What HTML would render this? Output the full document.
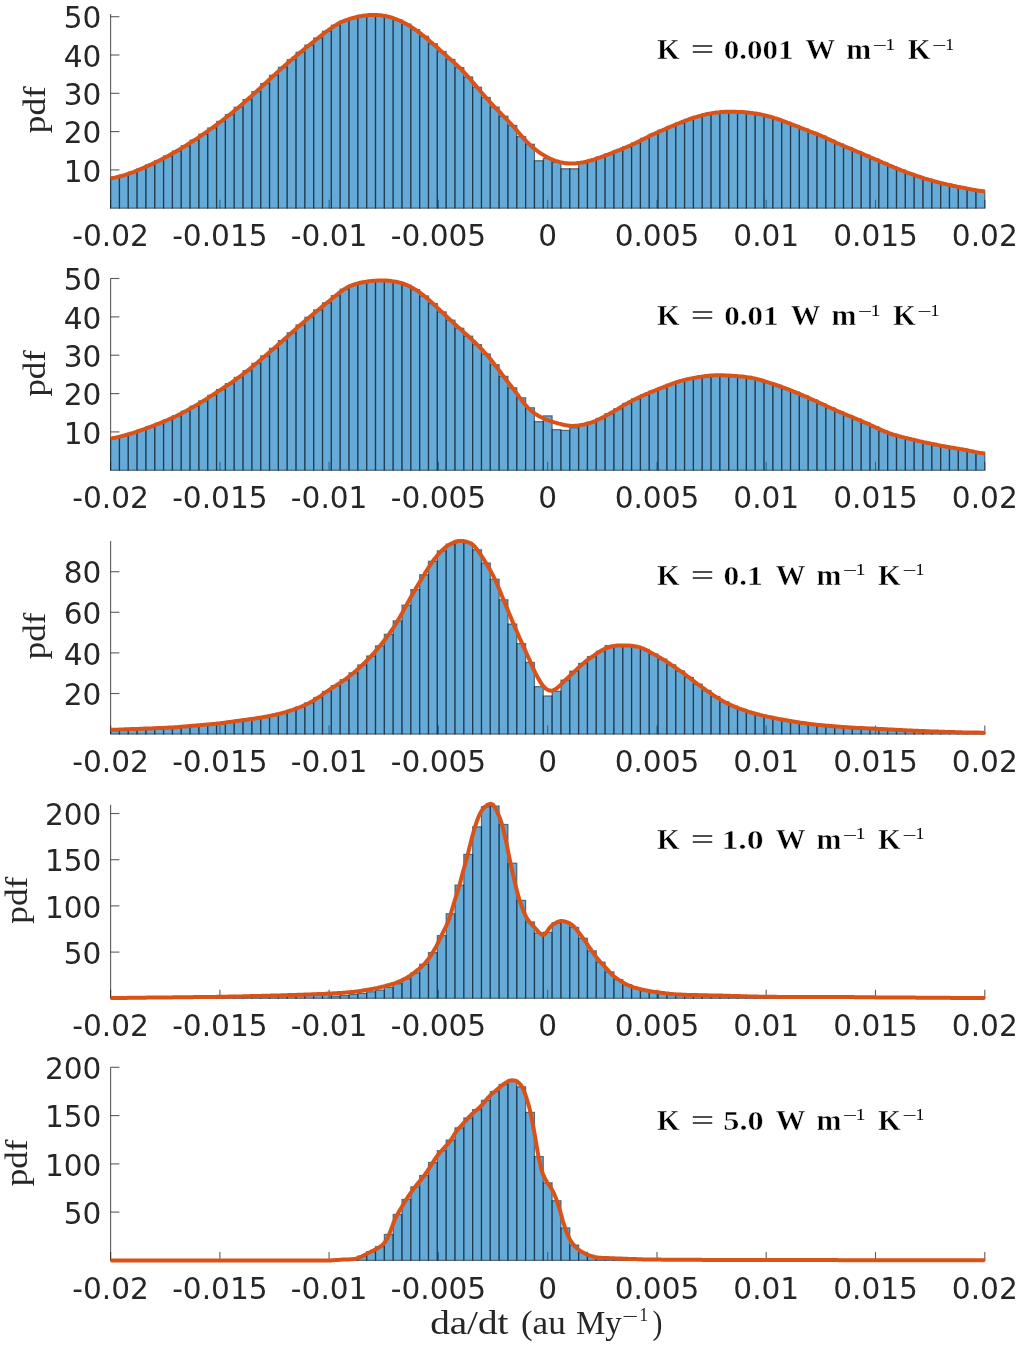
<!DOCTYPE html>
<html><head><meta charset="utf-8"><title>pdf</title>
<style>html,body{margin:0;padding:0;background:#fff;overflow:hidden;width:1020px;height:1346px;}svg{display:block;}</style>
</head><body>
<svg width="1020" height="1346" viewBox="0 0 1020 1346">
<rect width="1020" height="1346" fill="#fff"/>
<g stroke="#262626" stroke-width="1.1" stroke-opacity="0.75" fill="none">
<line x1="110.6" y1="14.1" x2="110.6" y2="208.2"/>
<line x1="110.6" y1="169.9" x2="119.4" y2="169.9"/>
<line x1="110.6" y1="131.6" x2="119.4" y2="131.6"/>
<line x1="110.6" y1="93.3" x2="119.4" y2="93.3"/>
<line x1="110.6" y1="55.0" x2="119.4" y2="55.0"/>
<line x1="110.6" y1="16.7" x2="119.4" y2="16.7"/>
<line x1="110.6" y1="208.2" x2="110.6" y2="199.7"/>
<line x1="219.9" y1="208.2" x2="219.9" y2="199.7"/>
<line x1="329.1" y1="208.2" x2="329.1" y2="199.7"/>
<line x1="438.4" y1="208.2" x2="438.4" y2="199.7"/>
<line x1="547.7" y1="208.2" x2="547.7" y2="199.7"/>
<line x1="657.0" y1="208.2" x2="657.0" y2="199.7"/>
<line x1="766.2" y1="208.2" x2="766.2" y2="199.7"/>
<line x1="875.5" y1="208.2" x2="875.5" y2="199.7"/>
<line x1="984.8" y1="208.2" x2="984.8" y2="199.7"/>
</g>
<g fill="rgb(0,114,189)" fill-opacity="0.6" stroke="rgb(10,20,30)" stroke-opacity="0.55" stroke-width="1.25">
<rect x="110.60" y="177.52" width="8.83" height="30.68"/>
<rect x="119.43" y="175.19" width="8.83" height="33.01"/>
<rect x="128.26" y="172.23" width="8.83" height="35.97"/>
<rect x="137.09" y="168.69" width="8.83" height="39.51"/>
<rect x="145.92" y="164.77" width="8.83" height="43.43"/>
<rect x="154.75" y="160.53" width="8.83" height="47.67"/>
<rect x="163.58" y="155.93" width="8.83" height="52.27"/>
<rect x="172.41" y="150.99" width="8.83" height="57.21"/>
<rect x="181.24" y="145.69" width="8.83" height="62.51"/>
<rect x="190.07" y="140.07" width="8.83" height="68.13"/>
<rect x="198.90" y="134.17" width="8.83" height="74.03"/>
<rect x="207.73" y="127.96" width="8.83" height="80.24"/>
<rect x="216.56" y="121.42" width="8.83" height="86.78"/>
<rect x="225.39" y="114.53" width="8.83" height="93.67"/>
<rect x="234.22" y="107.27" width="8.83" height="100.93"/>
<rect x="243.05" y="99.61" width="8.83" height="108.59"/>
<rect x="251.88" y="91.60" width="8.83" height="116.60"/>
<rect x="260.72" y="83.49" width="8.83" height="124.71"/>
<rect x="269.55" y="75.35" width="8.83" height="132.85"/>
<rect x="278.38" y="67.33" width="8.83" height="140.87"/>
<rect x="287.21" y="59.65" width="8.83" height="148.55"/>
<rect x="296.04" y="52.28" width="8.83" height="155.92"/>
<rect x="304.87" y="45.08" width="8.83" height="163.12"/>
<rect x="313.70" y="37.99" width="8.83" height="170.21"/>
<rect x="322.53" y="31.23" width="8.83" height="176.97"/>
<rect x="331.36" y="25.19" width="8.83" height="183.01"/>
<rect x="340.19" y="20.76" width="8.83" height="187.44"/>
<rect x="349.02" y="17.86" width="8.83" height="190.34"/>
<rect x="357.85" y="15.92" width="8.83" height="192.28"/>
<rect x="366.68" y="15.06" width="8.83" height="193.14"/>
<rect x="375.51" y="15.32" width="8.83" height="192.88"/>
<rect x="384.34" y="16.91" width="8.83" height="191.29"/>
<rect x="393.17" y="19.83" width="8.83" height="188.37"/>
<rect x="402.00" y="24.05" width="8.83" height="184.15"/>
<rect x="410.83" y="29.66" width="8.83" height="178.54"/>
<rect x="419.66" y="36.29" width="8.83" height="171.91"/>
<rect x="428.49" y="43.76" width="8.83" height="164.44"/>
<rect x="437.32" y="51.54" width="8.83" height="156.66"/>
<rect x="446.15" y="59.45" width="8.83" height="148.75"/>
<rect x="454.98" y="67.59" width="8.83" height="140.61"/>
<rect x="463.81" y="76.97" width="8.83" height="131.23"/>
<rect x="472.64" y="87.23" width="8.83" height="120.97"/>
<rect x="481.47" y="97.47" width="8.83" height="110.73"/>
<rect x="490.30" y="107.11" width="8.83" height="101.09"/>
<rect x="499.13" y="116.24" width="8.83" height="91.96"/>
<rect x="507.96" y="125.45" width="8.83" height="82.75"/>
<rect x="516.79" y="136.58" width="8.83" height="71.62"/>
<rect x="525.62" y="144.24" width="8.83" height="63.96"/>
<rect x="534.45" y="160.71" width="8.83" height="47.49"/>
<rect x="543.28" y="158.41" width="8.83" height="49.79"/>
<rect x="552.12" y="162.24" width="8.83" height="45.96"/>
<rect x="560.95" y="168.75" width="8.83" height="39.45"/>
<rect x="569.78" y="168.75" width="8.83" height="39.45"/>
<rect x="578.61" y="162.22" width="8.83" height="45.98"/>
<rect x="587.44" y="160.10" width="8.83" height="48.10"/>
<rect x="596.27" y="157.19" width="8.83" height="51.01"/>
<rect x="605.10" y="153.90" width="8.83" height="54.30"/>
<rect x="613.93" y="150.39" width="8.83" height="57.81"/>
<rect x="622.76" y="146.79" width="8.83" height="61.41"/>
<rect x="631.59" y="142.83" width="8.83" height="65.37"/>
<rect x="640.42" y="138.38" width="8.83" height="69.82"/>
<rect x="649.25" y="134.10" width="8.83" height="74.10"/>
<rect x="658.08" y="130.21" width="8.83" height="77.99"/>
<rect x="666.91" y="126.42" width="8.83" height="81.78"/>
<rect x="675.74" y="122.76" width="8.83" height="85.44"/>
<rect x="684.57" y="119.39" width="8.83" height="88.81"/>
<rect x="693.40" y="116.50" width="8.83" height="91.70"/>
<rect x="702.23" y="114.23" width="8.83" height="93.97"/>
<rect x="711.06" y="112.72" width="8.83" height="95.48"/>
<rect x="719.89" y="111.90" width="8.83" height="96.30"/>
<rect x="728.72" y="111.80" width="8.83" height="96.40"/>
<rect x="737.55" y="112.11" width="8.83" height="96.09"/>
<rect x="746.38" y="112.91" width="8.83" height="95.29"/>
<rect x="755.21" y="114.30" width="8.83" height="93.90"/>
<rect x="764.04" y="116.30" width="8.83" height="91.90"/>
<rect x="772.87" y="118.94" width="8.83" height="89.26"/>
<rect x="781.70" y="122.14" width="8.83" height="86.06"/>
<rect x="790.53" y="125.55" width="8.83" height="82.65"/>
<rect x="799.36" y="129.00" width="8.83" height="79.20"/>
<rect x="808.19" y="132.42" width="8.83" height="75.78"/>
<rect x="817.02" y="136.01" width="8.83" height="72.19"/>
<rect x="825.85" y="140.00" width="8.83" height="68.20"/>
<rect x="834.68" y="143.99" width="8.83" height="64.21"/>
<rect x="843.52" y="147.73" width="8.83" height="60.47"/>
<rect x="852.35" y="151.42" width="8.83" height="56.78"/>
<rect x="861.18" y="155.17" width="8.83" height="53.03"/>
<rect x="870.01" y="158.93" width="8.83" height="49.27"/>
<rect x="878.84" y="162.72" width="8.83" height="45.48"/>
<rect x="887.67" y="166.51" width="8.83" height="41.69"/>
<rect x="896.50" y="170.10" width="8.83" height="38.10"/>
<rect x="905.33" y="173.45" width="8.83" height="34.75"/>
<rect x="914.16" y="176.53" width="8.83" height="31.67"/>
<rect x="922.99" y="179.29" width="8.83" height="28.91"/>
<rect x="931.82" y="181.75" width="8.83" height="26.45"/>
<rect x="940.65" y="183.95" width="8.83" height="24.25"/>
<rect x="949.48" y="185.90" width="8.83" height="22.30"/>
<rect x="958.31" y="187.67" width="8.83" height="20.53"/>
<rect x="967.14" y="189.42" width="8.83" height="18.78"/>
<rect x="975.97" y="190.88" width="8.83" height="17.32"/>
</g>
<path d="M110.6,178.3 L112.1,178.1 L113.5,177.9 L115.0,177.6 L116.4,177.3 L117.9,176.9 L119.4,176.5 L120.8,176.1 L122.3,175.7 L123.7,175.3 L125.2,174.8 L126.7,174.3 L128.1,173.9 L129.6,173.4 L131.0,172.9 L132.5,172.3 L134.0,171.8 L135.4,171.2 L136.9,170.6 L138.3,170.0 L139.8,169.4 L141.2,168.8 L142.7,168.2 L144.2,167.6 L145.6,166.9 L147.1,166.3 L148.5,165.6 L150.0,164.9 L151.5,164.3 L152.9,163.6 L154.4,162.9 L155.8,162.2 L157.3,161.5 L158.8,160.7 L160.2,160.0 L161.7,159.3 L163.1,158.5 L164.6,157.8 L166.1,157.0 L167.5,156.2 L169.0,155.4 L170.4,154.6 L171.9,153.8 L173.4,153.0 L174.8,152.2 L176.3,151.3 L177.7,150.5 L179.2,149.6 L180.7,148.8 L182.1,147.9 L183.6,147.0 L185.0,146.1 L186.5,145.2 L187.9,144.3 L189.4,143.3 L190.9,142.4 L192.3,141.5 L193.8,140.5 L195.2,139.6 L196.7,138.6 L198.2,137.7 L199.6,136.7 L201.1,135.7 L202.5,134.7 L204.0,133.7 L205.5,132.7 L206.9,131.7 L208.4,130.7 L209.8,129.6 L211.3,128.6 L212.8,127.5 L214.2,126.5 L215.7,125.4 L217.1,124.3 L218.6,123.2 L220.1,122.1 L221.5,121.0 L223.0,119.9 L224.4,118.8 L225.9,117.6 L227.4,116.5 L228.8,115.3 L230.3,114.2 L231.7,113.0 L233.2,111.8 L234.7,110.6 L236.1,109.4 L237.6,108.2 L239.0,107.0 L240.5,105.7 L241.9,104.5 L243.4,103.2 L244.9,101.9 L246.3,100.6 L247.8,99.3 L249.2,98.0 L250.7,96.7 L252.2,95.4 L253.6,94.1 L255.1,92.7 L256.5,91.4 L258.0,90.0 L259.5,88.7 L260.9,87.4 L262.4,86.0 L263.8,84.7 L265.3,83.3 L266.8,82.0 L268.2,80.6 L269.7,79.3 L271.1,77.9 L272.6,76.6 L274.1,75.3 L275.5,73.9 L277.0,72.6 L278.4,71.2 L279.9,69.9 L281.4,68.6 L282.8,67.3 L284.3,66.0 L285.7,64.7 L287.2,63.4 L288.7,62.2 L290.1,60.9 L291.6,59.7 L293.0,58.4 L294.5,57.2 L295.9,56.0 L297.4,54.8 L298.9,53.6 L300.3,52.4 L301.8,51.2 L303.2,50.0 L304.7,48.8 L306.2,47.6 L307.6,46.4 L309.1,45.2 L310.5,44.1 L312.0,42.9 L313.5,41.7 L314.9,40.5 L316.4,39.4 L317.8,38.2 L319.3,37.0 L320.8,35.9 L322.2,34.8 L323.7,33.6 L325.1,32.5 L326.6,31.4 L328.1,30.4 L329.5,29.3 L331.0,28.3 L332.4,27.3 L333.9,26.3 L335.4,25.4 L336.8,24.5 L338.3,23.6 L339.7,22.9 L341.2,22.1 L342.6,21.5 L344.1,20.9 L345.6,20.3 L347.0,19.8 L348.5,19.3 L349.9,18.8 L351.4,18.4 L352.9,18.0 L354.3,17.6 L355.8,17.2 L357.2,16.8 L358.7,16.5 L360.2,16.2 L361.6,16.0 L363.1,15.7 L364.5,15.5 L366.0,15.4 L367.5,15.2 L368.9,15.1 L370.4,15.0 L371.8,15.0 L373.3,14.9 L374.8,14.9 L376.2,15.0 L377.7,15.1 L379.1,15.2 L380.6,15.3 L382.1,15.5 L383.5,15.8 L385.0,16.0 L386.4,16.3 L387.9,16.6 L389.4,17.0 L390.8,17.4 L392.3,17.8 L393.7,18.3 L395.2,18.8 L396.6,19.4 L398.1,20.0 L399.6,20.6 L401.0,21.2 L402.5,21.9 L403.9,22.7 L405.4,23.4 L406.9,24.2 L408.3,25.1 L409.8,26.0 L411.2,26.9 L412.7,27.9 L414.2,28.9 L415.6,29.9 L417.1,30.9 L418.5,32.0 L420.0,33.1 L421.5,34.2 L422.9,35.3 L424.4,36.5 L425.8,37.7 L427.3,38.9 L428.8,40.1 L430.2,41.4 L431.7,42.7 L433.1,44.0 L434.6,45.2 L436.1,46.5 L437.5,47.8 L439.0,49.1 L440.4,50.4 L441.9,51.7 L443.4,53.0 L444.8,54.3 L446.3,55.6 L447.7,56.9 L449.2,58.2 L450.6,59.5 L452.1,60.8 L453.6,62.1 L455.0,63.4 L456.5,64.7 L457.9,66.1 L459.4,67.5 L460.9,69.0 L462.3,70.5 L463.8,72.0 L465.2,73.6 L466.7,75.2 L468.2,76.9 L469.6,78.5 L471.1,80.2 L472.5,81.9 L474.0,83.6 L475.5,85.3 L476.9,87.1 L478.4,88.8 L479.8,90.5 L481.3,92.2 L482.8,93.9 L484.2,95.6 L485.7,97.3 L487.1,98.9 L488.6,100.5 L490.1,102.1 L491.5,103.7 L493.0,105.3 L494.4,106.8 L495.9,108.4 L497.3,109.9 L498.8,111.4 L500.3,112.9 L501.7,114.4 L503.2,115.9 L504.6,117.4 L506.1,118.8 L507.6,120.3 L509.0,121.8 L510.5,123.3 L511.9,124.9 L513.4,126.5 L514.9,128.2 L516.3,129.9 L517.8,131.6 L519.2,133.3 L520.7,135.1 L522.2,136.7 L523.6,138.4 L525.1,139.9 L526.5,141.5 L528.0,142.9 L529.5,144.3 L530.9,145.7 L532.4,147.0 L533.8,148.2 L535.3,149.4 L536.8,150.5 L538.2,151.6 L539.7,152.6 L541.1,153.6 L542.6,154.5 L544.1,155.4 L545.5,156.3 L547.0,157.1 L548.4,157.8 L549.9,158.5 L551.3,159.2 L552.8,159.8 L554.3,160.4 L555.7,160.9 L557.2,161.3 L558.6,161.7 L560.1,162.1 L561.6,162.4 L563.0,162.7 L564.5,163.0 L565.9,163.2 L567.4,163.3 L568.9,163.5 L570.3,163.5 L571.8,163.6 L573.2,163.5 L574.7,163.4 L576.2,163.3 L577.6,163.1 L579.1,162.9 L580.5,162.7 L582.0,162.4 L583.5,162.2 L584.9,161.9 L586.4,161.6 L587.8,161.2 L589.3,160.8 L590.8,160.5 L592.2,160.0 L593.7,159.6 L595.1,159.1 L596.6,158.6 L598.1,158.1 L599.5,157.6 L601.0,157.1 L602.4,156.6 L603.9,156.0 L605.3,155.5 L606.8,155.0 L608.3,154.4 L609.7,153.8 L611.2,153.3 L612.6,152.7 L614.1,152.1 L615.6,151.5 L617.0,150.9 L618.5,150.3 L619.9,149.8 L621.4,149.2 L622.9,148.6 L624.3,148.0 L625.8,147.4 L627.2,146.8 L628.7,146.2 L630.2,145.5 L631.6,144.9 L633.1,144.2 L634.5,143.6 L636.0,142.9 L637.5,142.1 L638.9,141.4 L640.4,140.7 L641.8,139.9 L643.3,139.2 L644.8,138.4 L646.2,137.7 L647.7,136.9 L649.1,136.2 L650.6,135.5 L652.0,134.8 L653.5,134.2 L655.0,133.5 L656.4,132.8 L657.9,132.2 L659.3,131.6 L660.8,130.9 L662.3,130.3 L663.7,129.7 L665.2,129.0 L666.6,128.4 L668.1,127.8 L669.6,127.2 L671.0,126.5 L672.5,125.9 L673.9,125.3 L675.4,124.7 L676.9,124.1 L678.3,123.5 L679.8,122.9 L681.2,122.3 L682.7,121.7 L684.2,121.2 L685.6,120.6 L687.1,120.1 L688.5,119.5 L690.0,119.0 L691.5,118.5 L692.9,118.0 L694.4,117.5 L695.8,117.1 L697.3,116.6 L698.8,116.2 L700.2,115.8 L701.7,115.4 L703.1,115.0 L704.6,114.7 L706.0,114.3 L707.5,114.0 L709.0,113.7 L710.4,113.5 L711.9,113.2 L713.3,113.0 L714.8,112.8 L716.3,112.6 L717.7,112.4 L719.2,112.3 L720.6,112.1 L722.1,112.0 L723.6,111.9 L725.0,111.8 L726.5,111.8 L727.9,111.8 L729.4,111.7 L730.9,111.7 L732.3,111.8 L733.8,111.8 L735.2,111.8 L736.7,111.9 L738.2,111.9 L739.6,112.0 L741.1,112.0 L742.5,112.1 L744.0,112.2 L745.5,112.3 L746.9,112.4 L748.4,112.6 L749.8,112.8 L751.3,112.9 L752.8,113.1 L754.2,113.4 L755.7,113.6 L757.1,113.8 L758.6,114.1 L760.0,114.3 L761.5,114.6 L763.0,114.9 L764.4,115.3 L765.9,115.6 L767.3,116.0 L768.8,116.4 L770.3,116.8 L771.7,117.2 L773.2,117.6 L774.6,118.1 L776.1,118.5 L777.6,119.0 L779.0,119.5 L780.5,120.0 L781.9,120.6 L783.4,121.1 L784.9,121.7 L786.3,122.2 L787.8,122.8 L789.2,123.3 L790.7,123.9 L792.2,124.5 L793.6,125.0 L795.1,125.6 L796.5,126.2 L798.0,126.7 L799.5,127.3 L800.9,127.9 L802.4,128.5 L803.8,129.0 L805.3,129.6 L806.7,130.2 L808.2,130.7 L809.7,131.3 L811.1,131.8 L812.6,132.4 L814.0,133.0 L815.5,133.5 L817.0,134.1 L818.4,134.7 L819.9,135.3 L821.3,135.9 L822.8,136.6 L824.3,137.2 L825.7,137.9 L827.2,138.6 L828.6,139.2 L830.1,139.9 L831.6,140.6 L833.0,141.3 L834.5,141.9 L835.9,142.6 L837.4,143.3 L838.9,143.9 L840.3,144.5 L841.8,145.2 L843.2,145.8 L844.7,146.4 L846.2,147.0 L847.6,147.6 L849.1,148.2 L850.5,148.8 L852.0,149.4 L853.5,150.0 L854.9,150.6 L856.4,151.3 L857.8,151.9 L859.3,152.5 L860.7,153.1 L862.2,153.7 L863.7,154.3 L865.1,155.0 L866.6,155.6 L868.0,156.2 L869.5,156.8 L871.0,157.5 L872.4,158.1 L873.9,158.7 L875.3,159.3 L876.8,159.9 L878.3,160.6 L879.7,161.2 L881.2,161.8 L882.6,162.5 L884.1,163.1 L885.6,163.7 L887.0,164.4 L888.5,165.0 L889.9,165.6 L891.4,166.2 L892.9,166.8 L894.3,167.5 L895.8,168.1 L897.2,168.6 L898.7,169.2 L900.2,169.8 L901.6,170.4 L903.1,171.0 L904.5,171.5 L906.0,172.1 L907.5,172.6 L908.9,173.2 L910.4,173.7 L911.8,174.2 L913.3,174.7 L914.7,175.2 L916.2,175.8 L917.7,176.2 L919.1,176.7 L920.6,177.2 L922.0,177.7 L923.5,178.1 L925.0,178.6 L926.4,179.0 L927.9,179.4 L929.3,179.9 L930.8,180.3 L932.3,180.7 L933.7,181.1 L935.2,181.5 L936.6,181.9 L938.1,182.3 L939.6,182.6 L941.0,183.0 L942.5,183.3 L943.9,183.7 L945.4,184.0 L946.9,184.4 L948.3,184.7 L949.8,185.0 L951.2,185.3 L952.7,185.7 L954.2,186.0 L955.6,186.3 L957.1,186.6 L958.5,186.9 L960.0,187.1 L961.4,187.4 L962.9,187.7 L964.4,188.0 L965.8,188.3 L967.3,188.6 L968.7,188.9 L970.2,189.2 L971.7,189.5 L973.1,189.7 L974.6,190.0 L976.0,190.3 L977.5,190.6 L979.0,190.8 L980.4,191.0 L981.9,191.1 L983.3,191.2 L984.8,191.3" fill="none" stroke="rgb(217,83,25)" stroke-width="4.0" stroke-linejoin="round"/>
<g font-family="DejaVu Sans, Liberation Sans, sans-serif" font-size="31.0" fill="#262626">
<text transform="translate(101.4,181.55) scale(0.955,1)" text-anchor="end">10</text>
<text transform="translate(101.4,143.25) scale(0.955,1)" text-anchor="end">20</text>
<text transform="translate(101.4,104.95) scale(0.955,1)" text-anchor="end">30</text>
<text transform="translate(101.4,66.65) scale(0.955,1)" text-anchor="end">40</text>
<text transform="translate(101.4,28.35) scale(0.955,1)" text-anchor="end">50</text>
<text transform="translate(110.60,246.30) scale(0.955,1)" text-anchor="middle">-0.02</text>
<text transform="translate(219.88,246.30) scale(0.955,1)" text-anchor="middle">-0.015</text>
<text transform="translate(329.15,246.30) scale(0.955,1)" text-anchor="middle">-0.01</text>
<text transform="translate(438.42,246.30) scale(0.955,1)" text-anchor="middle">-0.005</text>
<text transform="translate(547.70,246.30) scale(0.955,1)" text-anchor="middle">0</text>
<text transform="translate(656.98,246.30) scale(0.955,1)" text-anchor="middle">0.005</text>
<text transform="translate(766.25,246.30) scale(0.955,1)" text-anchor="middle">0.01</text>
<text transform="translate(875.53,246.30) scale(0.955,1)" text-anchor="middle">0.015</text>
<text transform="translate(984.80,246.30) scale(0.955,1)" text-anchor="middle">0.02</text>
</g>
<text transform="translate(44.82,133.13) rotate(-90) scale(1.1097,0.9795)" font-family="Liberation Serif, DejaVu Serif, serif" font-size="31.6" fill="#262626">pdf</text>
<text transform="translate(657.09,59.00) scale(1.0140,1.0000)" font-family="Liberation Serif, DejaVu Serif, serif" font-weight="bold" stroke="#fff" stroke-width="0.45" font-size="28.7" fill="#000">K</text>
<text transform="translate(690.22,59.00) scale(1.5211,1.0000)" font-family="Liberation Serif, DejaVu Serif, serif" font-weight="bold" stroke="#fff" stroke-width="0.45" font-size="28.7" fill="#000">=</text>
<text transform="translate(723.84,59.00) scale(1.0808,0.9400)" font-family="Liberation Serif, DejaVu Serif, serif" font-weight="bold" stroke="#fff" stroke-width="0.45" font-size="28.7" fill="#000">0.001</text>
<text transform="translate(805.55,59.00) scale(1.0345,1.0000)" font-family="Liberation Serif, DejaVu Serif, serif" font-weight="bold" stroke="#fff" stroke-width="0.45" font-size="28.7" fill="#000">W</text>
<text transform="translate(846.28,59.00) scale(1.0398,1.0000)" font-family="Liberation Serif, DejaVu Serif, serif" font-weight="bold" stroke="#fff" stroke-width="0.45" font-size="28.7" fill="#000">m</text>
<text transform="translate(872.43,50.75) scale(1.5195,1.0000)" font-family="Liberation Serif, DejaVu Serif, serif" font-size="16.7" fill="#000">−</text>
<text transform="translate(885.24,49.60) scale(1.2061,1.0000)" font-family="Liberation Serif, DejaVu Serif, serif" font-size="16.7" fill="#000">1</text>
<text transform="translate(907.69,59.00) scale(1.0187,1.0000)" font-family="Liberation Serif, DejaVu Serif, serif" font-weight="bold" stroke="#fff" stroke-width="0.45" font-size="28.7" fill="#000">K</text>
<text transform="translate(932.03,50.75) scale(1.5195,1.0000)" font-family="Liberation Serif, DejaVu Serif, serif" font-size="16.7" fill="#000">−</text>
<text transform="translate(945.14,49.60) scale(1.0702,1.0000)" font-family="Liberation Serif, DejaVu Serif, serif" font-size="16.7" fill="#000">1</text>
<g stroke="#262626" stroke-width="1.1" stroke-opacity="0.75" fill="none">
<line x1="110.6" y1="278.3" x2="110.6" y2="470.3"/>
<line x1="110.6" y1="431.9" x2="119.4" y2="431.9"/>
<line x1="110.6" y1="393.6" x2="119.4" y2="393.6"/>
<line x1="110.6" y1="355.2" x2="119.4" y2="355.2"/>
<line x1="110.6" y1="316.9" x2="119.4" y2="316.9"/>
<line x1="110.6" y1="278.5" x2="119.4" y2="278.5"/>
<line x1="110.6" y1="470.3" x2="110.6" y2="461.8"/>
<line x1="219.9" y1="470.3" x2="219.9" y2="461.8"/>
<line x1="329.1" y1="470.3" x2="329.1" y2="461.8"/>
<line x1="438.4" y1="470.3" x2="438.4" y2="461.8"/>
<line x1="547.7" y1="470.3" x2="547.7" y2="461.8"/>
<line x1="657.0" y1="470.3" x2="657.0" y2="461.8"/>
<line x1="766.2" y1="470.3" x2="766.2" y2="461.8"/>
<line x1="875.5" y1="470.3" x2="875.5" y2="461.8"/>
<line x1="984.8" y1="470.3" x2="984.8" y2="461.8"/>
</g>
<g fill="rgb(0,114,189)" fill-opacity="0.6" stroke="rgb(10,20,30)" stroke-opacity="0.55" stroke-width="1.25">
<rect x="110.60" y="437.68" width="8.83" height="32.62"/>
<rect x="119.43" y="435.59" width="8.83" height="34.71"/>
<rect x="128.26" y="433.00" width="8.83" height="37.30"/>
<rect x="137.09" y="430.05" width="8.83" height="40.25"/>
<rect x="145.92" y="426.84" width="8.83" height="43.46"/>
<rect x="154.75" y="423.43" width="8.83" height="46.87"/>
<rect x="163.58" y="419.75" width="8.83" height="50.55"/>
<rect x="172.41" y="415.67" width="8.83" height="54.63"/>
<rect x="181.24" y="411.13" width="8.83" height="59.17"/>
<rect x="190.07" y="406.20" width="8.83" height="64.10"/>
<rect x="198.90" y="400.90" width="8.83" height="69.40"/>
<rect x="207.73" y="395.28" width="8.83" height="75.02"/>
<rect x="216.56" y="389.51" width="8.83" height="80.79"/>
<rect x="225.39" y="383.64" width="8.83" height="86.66"/>
<rect x="234.22" y="377.42" width="8.83" height="92.88"/>
<rect x="243.05" y="370.64" width="8.83" height="99.66"/>
<rect x="251.88" y="363.38" width="8.83" height="106.92"/>
<rect x="260.72" y="355.91" width="8.83" height="114.39"/>
<rect x="269.55" y="348.32" width="8.83" height="121.98"/>
<rect x="278.38" y="340.61" width="8.83" height="129.69"/>
<rect x="287.21" y="332.79" width="8.83" height="137.51"/>
<rect x="296.04" y="324.94" width="8.83" height="145.36"/>
<rect x="304.87" y="317.29" width="8.83" height="153.01"/>
<rect x="313.70" y="309.94" width="8.83" height="160.36"/>
<rect x="322.53" y="302.79" width="8.83" height="167.51"/>
<rect x="331.36" y="295.60" width="8.83" height="174.70"/>
<rect x="340.19" y="289.13" width="8.83" height="181.17"/>
<rect x="349.02" y="284.87" width="8.83" height="185.43"/>
<rect x="357.85" y="282.40" width="8.83" height="187.90"/>
<rect x="366.68" y="281.05" width="8.83" height="189.25"/>
<rect x="375.51" y="280.57" width="8.83" height="189.73"/>
<rect x="384.34" y="280.84" width="8.83" height="189.46"/>
<rect x="393.17" y="282.19" width="8.83" height="188.11"/>
<rect x="402.00" y="285.03" width="8.83" height="185.27"/>
<rect x="410.83" y="289.61" width="8.83" height="180.69"/>
<rect x="419.66" y="295.92" width="8.83" height="174.38"/>
<rect x="428.49" y="303.58" width="8.83" height="166.72"/>
<rect x="437.32" y="311.87" width="8.83" height="158.43"/>
<rect x="446.15" y="320.18" width="8.83" height="150.12"/>
<rect x="454.98" y="328.27" width="8.83" height="142.03"/>
<rect x="463.81" y="336.22" width="8.83" height="134.08"/>
<rect x="472.64" y="344.57" width="8.83" height="125.73"/>
<rect x="481.47" y="353.95" width="8.83" height="116.35"/>
<rect x="490.30" y="364.70" width="8.83" height="105.60"/>
<rect x="499.13" y="376.34" width="8.83" height="93.96"/>
<rect x="507.96" y="387.80" width="8.83" height="82.50"/>
<rect x="516.79" y="397.80" width="8.83" height="72.50"/>
<rect x="525.62" y="407.77" width="8.83" height="62.53"/>
<rect x="534.45" y="421.58" width="8.83" height="48.72"/>
<rect x="543.28" y="415.83" width="8.83" height="54.47"/>
<rect x="552.12" y="429.64" width="8.83" height="40.66"/>
<rect x="560.95" y="430.41" width="8.83" height="39.89"/>
<rect x="569.78" y="427.72" width="8.83" height="42.58"/>
<rect x="578.61" y="424.61" width="8.83" height="45.69"/>
<rect x="587.44" y="422.23" width="8.83" height="48.07"/>
<rect x="596.27" y="418.41" width="8.83" height="51.89"/>
<rect x="605.10" y="413.72" width="8.83" height="56.58"/>
<rect x="613.93" y="408.64" width="8.83" height="61.66"/>
<rect x="622.76" y="403.44" width="8.83" height="66.86"/>
<rect x="631.59" y="398.80" width="8.83" height="71.50"/>
<rect x="640.42" y="394.73" width="8.83" height="75.57"/>
<rect x="649.25" y="391.03" width="8.83" height="79.27"/>
<rect x="658.08" y="387.53" width="8.83" height="82.77"/>
<rect x="666.91" y="384.15" width="8.83" height="86.15"/>
<rect x="675.74" y="381.18" width="8.83" height="89.12"/>
<rect x="684.57" y="378.95" width="8.83" height="91.35"/>
<rect x="693.40" y="377.28" width="8.83" height="93.02"/>
<rect x="702.23" y="376.00" width="8.83" height="94.30"/>
<rect x="711.06" y="375.34" width="8.83" height="94.96"/>
<rect x="719.89" y="375.37" width="8.83" height="94.93"/>
<rect x="728.72" y="375.84" width="8.83" height="94.46"/>
<rect x="737.55" y="376.61" width="8.83" height="93.69"/>
<rect x="746.38" y="377.80" width="8.83" height="92.50"/>
<rect x="755.21" y="379.80" width="8.83" height="90.50"/>
<rect x="764.04" y="382.49" width="8.83" height="87.81"/>
<rect x="772.87" y="385.44" width="8.83" height="84.86"/>
<rect x="781.70" y="388.61" width="8.83" height="81.69"/>
<rect x="790.53" y="392.09" width="8.83" height="78.21"/>
<rect x="799.36" y="395.78" width="8.83" height="74.52"/>
<rect x="808.19" y="399.64" width="8.83" height="70.66"/>
<rect x="817.02" y="403.71" width="8.83" height="66.59"/>
<rect x="825.85" y="407.78" width="8.83" height="62.52"/>
<rect x="834.68" y="411.68" width="8.83" height="58.62"/>
<rect x="843.52" y="415.39" width="8.83" height="54.91"/>
<rect x="852.35" y="419.05" width="8.83" height="51.25"/>
<rect x="861.18" y="422.80" width="8.83" height="47.50"/>
<rect x="870.01" y="426.80" width="8.83" height="43.50"/>
<rect x="878.84" y="430.78" width="8.83" height="39.52"/>
<rect x="887.67" y="434.16" width="8.83" height="36.14"/>
<rect x="896.50" y="436.68" width="8.83" height="33.62"/>
<rect x="905.33" y="438.85" width="8.83" height="31.45"/>
<rect x="914.16" y="440.93" width="8.83" height="29.37"/>
<rect x="922.99" y="442.89" width="8.83" height="27.41"/>
<rect x="931.82" y="444.72" width="8.83" height="25.58"/>
<rect x="940.65" y="446.42" width="8.83" height="23.88"/>
<rect x="949.48" y="447.97" width="8.83" height="22.33"/>
<rect x="958.31" y="449.47" width="8.83" height="20.83"/>
<rect x="967.14" y="451.21" width="8.83" height="19.09"/>
<rect x="975.97" y="452.82" width="8.83" height="17.48"/>
</g>
<path d="M110.6,438.4 L112.1,438.3 L113.5,438.0 L115.0,437.8 L116.4,437.4 L117.9,437.1 L119.4,436.8 L120.8,436.4 L122.3,436.0 L123.7,435.6 L125.2,435.2 L126.7,434.8 L128.1,434.4 L129.6,434.0 L131.0,433.5 L132.5,433.1 L134.0,432.6 L135.4,432.1 L136.9,431.7 L138.3,431.2 L139.8,430.7 L141.2,430.1 L142.7,429.6 L144.2,429.1 L145.6,428.6 L147.1,428.0 L148.5,427.5 L150.0,427.0 L151.5,426.4 L152.9,425.9 L154.4,425.3 L155.8,424.8 L157.3,424.2 L158.8,423.6 L160.2,423.0 L161.7,422.4 L163.1,421.8 L164.6,421.2 L166.1,420.6 L167.5,420.0 L169.0,419.3 L170.4,418.7 L171.9,418.0 L173.4,417.4 L174.8,416.7 L176.3,416.0 L177.7,415.2 L179.2,414.5 L180.7,413.8 L182.1,413.0 L183.6,412.3 L185.0,411.5 L186.5,410.7 L187.9,409.9 L189.4,409.1 L190.9,408.3 L192.3,407.5 L193.8,406.6 L195.2,405.8 L196.7,404.9 L198.2,404.1 L199.6,403.2 L201.1,402.3 L202.5,401.4 L204.0,400.5 L205.5,399.6 L206.9,398.6 L208.4,397.7 L209.8,396.8 L211.3,395.8 L212.8,394.9 L214.2,393.9 L215.7,393.0 L217.1,392.0 L218.6,391.1 L220.1,390.1 L221.5,389.2 L223.0,388.2 L224.4,387.2 L225.9,386.3 L227.4,385.3 L228.8,384.3 L230.3,383.3 L231.7,382.3 L233.2,381.3 L234.7,380.3 L236.1,379.3 L237.6,378.2 L239.0,377.2 L240.5,376.1 L241.9,375.0 L243.4,373.9 L244.9,372.7 L246.3,371.6 L247.8,370.4 L249.2,369.2 L250.7,368.0 L252.2,366.8 L253.6,365.6 L255.1,364.4 L256.5,363.2 L258.0,362.0 L259.5,360.7 L260.9,359.5 L262.4,358.3 L263.8,357.0 L265.3,355.8 L266.8,354.5 L268.2,353.3 L269.7,352.0 L271.1,350.8 L272.6,349.5 L274.1,348.2 L275.5,347.0 L277.0,345.7 L278.4,344.4 L279.9,343.2 L281.4,341.9 L282.8,340.6 L284.3,339.3 L285.7,338.0 L287.2,336.7 L288.7,335.4 L290.1,334.1 L291.6,332.8 L293.0,331.5 L294.5,330.2 L295.9,328.9 L297.4,327.6 L298.9,326.3 L300.3,325.0 L301.8,323.7 L303.2,322.5 L304.7,321.2 L306.2,319.9 L307.6,318.7 L309.1,317.4 L310.5,316.2 L312.0,315.0 L313.5,313.8 L314.9,312.6 L316.4,311.3 L317.8,310.2 L319.3,309.0 L320.8,307.8 L322.2,306.6 L323.7,305.4 L325.1,304.2 L326.6,303.1 L328.1,301.9 L329.5,300.7 L331.0,299.5 L332.4,298.3 L333.9,297.1 L335.4,295.9 L336.8,294.7 L338.3,293.5 L339.7,292.4 L341.2,291.3 L342.6,290.3 L344.1,289.3 L345.6,288.4 L347.0,287.6 L348.5,286.8 L349.9,286.2 L351.4,285.5 L352.9,285.0 L354.3,284.5 L355.8,284.0 L357.2,283.6 L358.7,283.2 L360.2,282.8 L361.6,282.5 L363.1,282.2 L364.5,281.9 L366.0,281.7 L367.5,281.4 L368.9,281.2 L370.4,281.1 L371.8,280.9 L373.3,280.8 L374.8,280.7 L376.2,280.7 L377.7,280.6 L379.1,280.6 L380.6,280.5 L382.1,280.5 L383.5,280.5 L385.0,280.6 L386.4,280.6 L387.9,280.7 L389.4,280.8 L390.8,281.0 L392.3,281.2 L393.7,281.4 L395.2,281.6 L396.6,281.9 L398.1,282.2 L399.6,282.6 L401.0,283.0 L402.5,283.5 L403.9,284.0 L405.4,284.5 L406.9,285.1 L408.3,285.8 L409.8,286.5 L411.2,287.2 L412.7,288.0 L414.2,288.9 L415.6,289.7 L417.1,290.7 L418.5,291.7 L420.0,292.7 L421.5,293.8 L422.9,294.9 L424.4,296.1 L425.8,297.3 L427.3,298.5 L428.8,299.8 L430.2,301.1 L431.7,302.4 L433.1,303.8 L434.6,305.1 L436.1,306.5 L437.5,307.9 L439.0,309.2 L440.4,310.6 L441.9,312.0 L443.4,313.4 L444.8,314.8 L446.3,316.2 L447.7,317.5 L449.2,318.9 L450.6,320.3 L452.1,321.6 L453.6,323.0 L455.0,324.3 L456.5,325.6 L457.9,327.0 L459.4,328.3 L460.9,329.6 L462.3,330.9 L463.8,332.2 L465.2,333.5 L466.7,334.8 L468.2,336.1 L469.6,337.5 L471.1,338.8 L472.5,340.2 L474.0,341.5 L475.5,342.9 L476.9,344.4 L478.4,345.8 L479.8,347.3 L481.3,348.8 L482.8,350.4 L484.2,352.0 L485.7,353.6 L487.1,355.3 L488.6,357.0 L490.1,358.8 L491.5,360.6 L493.0,362.4 L494.4,364.3 L495.9,366.2 L497.3,368.1 L498.8,370.0 L500.3,372.0 L501.7,374.0 L503.2,375.9 L504.6,377.8 L506.1,379.7 L507.6,381.6 L509.0,383.5 L510.5,385.3 L511.9,387.2 L513.4,389.1 L514.9,391.0 L516.3,392.9 L517.8,394.9 L519.2,396.9 L520.7,398.9 L522.2,400.8 L523.6,402.7 L525.1,404.4 L526.5,406.1 L528.0,407.6 L529.5,409.1 L530.9,410.4 L532.4,411.7 L533.8,412.8 L535.3,413.9 L536.8,414.8 L538.2,415.7 L539.7,416.5 L541.1,417.3 L542.6,418.0 L544.1,418.7 L545.5,419.3 L547.0,419.8 L548.4,420.4 L549.9,420.9 L551.3,421.4 L552.8,421.8 L554.3,422.3 L555.7,422.7 L557.2,423.1 L558.6,423.6 L560.1,423.9 L561.6,424.3 L563.0,424.7 L564.5,425.0 L565.9,425.3 L567.4,425.5 L568.9,425.7 L570.3,425.8 L571.8,425.9 L573.2,425.9 L574.7,425.8 L576.2,425.7 L577.6,425.6 L579.1,425.4 L580.5,425.1 L582.0,424.9 L583.5,424.6 L584.9,424.3 L586.4,423.9 L587.8,423.5 L589.3,423.1 L590.8,422.7 L592.2,422.2 L593.7,421.6 L595.1,421.1 L596.6,420.4 L598.1,419.7 L599.5,419.0 L601.0,418.3 L602.4,417.5 L603.9,416.8 L605.3,416.0 L606.8,415.2 L608.3,414.4 L609.7,413.6 L611.2,412.8 L612.6,412.0 L614.1,411.1 L615.6,410.3 L617.0,409.4 L618.5,408.6 L619.9,407.7 L621.4,406.8 L622.9,405.9 L624.3,405.1 L625.8,404.2 L627.2,403.4 L628.7,402.5 L630.2,401.7 L631.6,401.0 L633.1,400.2 L634.5,399.5 L636.0,398.8 L637.5,398.1 L638.9,397.4 L640.4,396.7 L641.8,396.0 L643.3,395.4 L644.8,394.7 L646.2,394.1 L647.7,393.5 L649.1,392.9 L650.6,392.3 L652.0,391.7 L653.5,391.1 L655.0,390.5 L656.4,389.9 L657.9,389.3 L659.3,388.8 L660.8,388.2 L662.3,387.6 L663.7,387.0 L665.2,386.5 L666.6,385.9 L668.1,385.3 L669.6,384.8 L671.0,384.2 L672.5,383.7 L673.9,383.2 L675.4,382.7 L676.9,382.2 L678.3,381.7 L679.8,381.2 L681.2,380.8 L682.7,380.4 L684.2,380.0 L685.6,379.7 L687.1,379.3 L688.5,379.0 L690.0,378.7 L691.5,378.4 L692.9,378.1 L694.4,377.9 L695.8,377.6 L697.3,377.3 L698.8,377.1 L700.2,376.9 L701.7,376.6 L703.1,376.4 L704.6,376.2 L706.0,376.0 L707.5,375.9 L709.0,375.7 L710.4,375.6 L711.9,375.5 L713.3,375.4 L714.8,375.3 L716.3,375.3 L717.7,375.3 L719.2,375.3 L720.6,375.3 L722.1,375.3 L723.6,375.3 L725.0,375.4 L726.5,375.4 L727.9,375.5 L729.4,375.6 L730.9,375.7 L732.3,375.8 L733.8,375.9 L735.2,376.0 L736.7,376.1 L738.2,376.2 L739.6,376.4 L741.1,376.5 L742.5,376.6 L744.0,376.8 L745.5,377.0 L746.9,377.2 L748.4,377.4 L749.8,377.6 L751.3,377.8 L752.8,378.1 L754.2,378.4 L755.7,378.7 L757.1,379.1 L758.6,379.5 L760.0,379.9 L761.5,380.3 L763.0,380.7 L764.4,381.2 L765.9,381.6 L767.3,382.1 L768.8,382.6 L770.3,383.1 L771.7,383.6 L773.2,384.0 L774.6,384.5 L776.1,385.0 L777.6,385.5 L779.0,386.0 L780.5,386.5 L781.9,387.0 L783.4,387.6 L784.9,388.1 L786.3,388.7 L787.8,389.2 L789.2,389.8 L790.7,390.4 L792.2,390.9 L793.6,391.5 L795.1,392.1 L796.5,392.7 L798.0,393.3 L799.5,393.9 L800.9,394.6 L802.4,395.2 L803.8,395.8 L805.3,396.4 L806.7,397.0 L808.2,397.7 L809.7,398.3 L811.1,399.0 L812.6,399.6 L814.0,400.3 L815.5,401.0 L817.0,401.6 L818.4,402.3 L819.9,403.0 L821.3,403.7 L822.8,404.3 L824.3,405.0 L825.7,405.7 L827.2,406.4 L828.6,407.0 L830.1,407.7 L831.6,408.4 L833.0,409.0 L834.5,409.7 L835.9,410.3 L837.4,411.0 L838.9,411.6 L840.3,412.2 L841.8,412.8 L843.2,413.4 L844.7,414.1 L846.2,414.7 L847.6,415.3 L849.1,415.9 L850.5,416.5 L852.0,417.1 L853.5,417.7 L854.9,418.3 L856.4,418.9 L857.8,419.5 L859.3,420.1 L860.7,420.7 L862.2,421.3 L863.7,422.0 L865.1,422.6 L866.6,423.2 L868.0,423.9 L869.5,424.5 L871.0,425.2 L872.4,425.9 L873.9,426.5 L875.3,427.2 L876.8,427.9 L878.3,428.6 L879.7,429.2 L881.2,429.9 L882.6,430.6 L884.1,431.2 L885.6,431.8 L887.0,432.4 L888.5,432.9 L889.9,433.5 L891.4,434.0 L892.9,434.5 L894.3,434.9 L895.8,435.3 L897.2,435.7 L898.7,436.1 L900.2,436.5 L901.6,436.9 L903.1,437.2 L904.5,437.6 L906.0,437.9 L907.5,438.3 L908.9,438.6 L910.4,439.0 L911.8,439.4 L913.3,439.7 L914.7,440.0 L916.2,440.4 L917.7,440.7 L919.1,441.1 L920.6,441.4 L922.0,441.7 L923.5,442.1 L925.0,442.4 L926.4,442.7 L927.9,443.0 L929.3,443.3 L930.8,443.6 L932.3,443.9 L933.7,444.2 L935.2,444.5 L936.6,444.8 L938.1,445.1 L939.6,445.4 L941.0,445.7 L942.5,445.9 L943.9,446.2 L945.4,446.5 L946.9,446.8 L948.3,447.0 L949.8,447.3 L951.2,447.5 L952.7,447.8 L954.2,448.0 L955.6,448.3 L957.1,448.5 L958.5,448.7 L960.0,449.0 L961.4,449.2 L962.9,449.5 L964.4,449.8 L965.8,450.0 L967.3,450.3 L968.7,450.6 L970.2,450.9 L971.7,451.2 L973.1,451.5 L974.6,451.9 L976.0,452.2 L977.5,452.4 L979.0,452.7 L980.4,452.9 L981.9,453.1 L983.3,453.2 L984.8,453.3" fill="none" stroke="rgb(217,83,25)" stroke-width="4.0" stroke-linejoin="round"/>
<g font-family="DejaVu Sans, Liberation Sans, sans-serif" font-size="31.0" fill="#262626">
<text transform="translate(101.4,443.59) scale(0.955,1)" text-anchor="end">10</text>
<text transform="translate(101.4,405.23) scale(0.955,1)" text-anchor="end">20</text>
<text transform="translate(101.4,366.87) scale(0.955,1)" text-anchor="end">30</text>
<text transform="translate(101.4,328.51) scale(0.955,1)" text-anchor="end">40</text>
<text transform="translate(101.4,290.15) scale(0.955,1)" text-anchor="end">50</text>
<text transform="translate(110.60,508.40) scale(0.955,1)" text-anchor="middle">-0.02</text>
<text transform="translate(219.88,508.40) scale(0.955,1)" text-anchor="middle">-0.015</text>
<text transform="translate(329.15,508.40) scale(0.955,1)" text-anchor="middle">-0.01</text>
<text transform="translate(438.42,508.40) scale(0.955,1)" text-anchor="middle">-0.005</text>
<text transform="translate(547.70,508.40) scale(0.955,1)" text-anchor="middle">0</text>
<text transform="translate(656.98,508.40) scale(0.955,1)" text-anchor="middle">0.005</text>
<text transform="translate(766.25,508.40) scale(0.955,1)" text-anchor="middle">0.01</text>
<text transform="translate(875.53,508.40) scale(0.955,1)" text-anchor="middle">0.015</text>
<text transform="translate(984.80,508.40) scale(0.955,1)" text-anchor="middle">0.02</text>
</g>
<text transform="translate(44.88,396.62) rotate(-90) scale(1.1049,1.0002)" font-family="Liberation Serif, DejaVu Serif, serif" font-size="31.6" fill="#262626">pdf</text>
<text transform="translate(657.09,325.30) scale(1.0140,1.0000)" font-family="Liberation Serif, DejaVu Serif, serif" font-weight="bold" stroke="#fff" stroke-width="0.45" font-size="28.7" fill="#000">K</text>
<text transform="translate(690.22,325.30) scale(1.5211,1.0000)" font-family="Liberation Serif, DejaVu Serif, serif" font-weight="bold" stroke="#fff" stroke-width="0.45" font-size="28.7" fill="#000">=</text>
<text transform="translate(724.34,325.30) scale(1.0810,0.9400)" font-family="Liberation Serif, DejaVu Serif, serif" font-weight="bold" stroke="#fff" stroke-width="0.45" font-size="28.7" fill="#000">0.01</text>
<text transform="translate(790.85,325.30) scale(1.0345,1.0000)" font-family="Liberation Serif, DejaVu Serif, serif" font-weight="bold" stroke="#fff" stroke-width="0.45" font-size="28.7" fill="#000">W</text>
<text transform="translate(831.58,325.30) scale(1.0398,1.0000)" font-family="Liberation Serif, DejaVu Serif, serif" font-weight="bold" stroke="#fff" stroke-width="0.45" font-size="28.7" fill="#000">m</text>
<text transform="translate(857.73,317.05) scale(1.5195,1.0000)" font-family="Liberation Serif, DejaVu Serif, serif" font-size="16.7" fill="#000">−</text>
<text transform="translate(870.54,315.90) scale(1.2061,1.0000)" font-family="Liberation Serif, DejaVu Serif, serif" font-size="16.7" fill="#000">1</text>
<text transform="translate(892.99,325.30) scale(1.0187,1.0000)" font-family="Liberation Serif, DejaVu Serif, serif" font-weight="bold" stroke="#fff" stroke-width="0.45" font-size="28.7" fill="#000">K</text>
<text transform="translate(917.33,317.05) scale(1.5195,1.0000)" font-family="Liberation Serif, DejaVu Serif, serif" font-size="16.7" fill="#000">−</text>
<text transform="translate(930.44,315.90) scale(1.0702,1.0000)" font-family="Liberation Serif, DejaVu Serif, serif" font-size="16.7" fill="#000">1</text>
<g stroke="#262626" stroke-width="1.1" stroke-opacity="0.75" fill="none">
<line x1="110.6" y1="541.1" x2="110.6" y2="734.1"/>
<line x1="110.6" y1="693.5" x2="119.4" y2="693.5"/>
<line x1="110.6" y1="652.9" x2="119.4" y2="652.9"/>
<line x1="110.6" y1="612.3" x2="119.4" y2="612.3"/>
<line x1="110.6" y1="571.7" x2="119.4" y2="571.7"/>
<line x1="110.6" y1="734.1" x2="110.6" y2="725.6"/>
<line x1="219.9" y1="734.1" x2="219.9" y2="725.6"/>
<line x1="329.1" y1="734.1" x2="329.1" y2="725.6"/>
<line x1="438.4" y1="734.1" x2="438.4" y2="725.6"/>
<line x1="547.7" y1="734.1" x2="547.7" y2="725.6"/>
<line x1="657.0" y1="734.1" x2="657.0" y2="725.6"/>
<line x1="766.2" y1="734.1" x2="766.2" y2="725.6"/>
<line x1="875.5" y1="734.1" x2="875.5" y2="725.6"/>
<line x1="984.8" y1="734.1" x2="984.8" y2="725.6"/>
</g>
<g fill="rgb(0,114,189)" fill-opacity="0.6" stroke="rgb(10,20,30)" stroke-opacity="0.55" stroke-width="1.25">
<rect x="110.60" y="729.73" width="8.83" height="4.37"/>
<rect x="119.43" y="729.39" width="8.83" height="4.71"/>
<rect x="128.26" y="729.05" width="8.83" height="5.05"/>
<rect x="137.09" y="728.74" width="8.83" height="5.36"/>
<rect x="145.92" y="728.40" width="8.83" height="5.70"/>
<rect x="154.75" y="728.05" width="8.83" height="6.05"/>
<rect x="163.58" y="727.64" width="8.83" height="6.46"/>
<rect x="172.41" y="727.11" width="8.83" height="6.99"/>
<rect x="181.24" y="726.41" width="8.83" height="7.69"/>
<rect x="190.07" y="725.64" width="8.83" height="8.46"/>
<rect x="198.90" y="724.89" width="8.83" height="9.21"/>
<rect x="207.73" y="724.10" width="8.83" height="10.00"/>
<rect x="216.56" y="723.15" width="8.83" height="10.95"/>
<rect x="225.39" y="721.99" width="8.83" height="12.11"/>
<rect x="234.22" y="720.74" width="8.83" height="13.36"/>
<rect x="243.05" y="719.53" width="8.83" height="14.57"/>
<rect x="251.88" y="718.28" width="8.83" height="15.82"/>
<rect x="260.72" y="716.81" width="8.83" height="17.29"/>
<rect x="269.55" y="715.01" width="8.83" height="19.09"/>
<rect x="278.38" y="712.85" width="8.83" height="21.25"/>
<rect x="287.21" y="710.20" width="8.83" height="23.90"/>
<rect x="296.04" y="706.91" width="8.83" height="27.19"/>
<rect x="304.87" y="702.84" width="8.83" height="31.26"/>
<rect x="313.70" y="697.53" width="8.83" height="36.57"/>
<rect x="322.53" y="691.48" width="8.83" height="42.62"/>
<rect x="331.36" y="685.64" width="8.83" height="48.46"/>
<rect x="340.19" y="679.72" width="8.83" height="54.38"/>
<rect x="349.02" y="672.85" width="8.83" height="61.25"/>
<rect x="357.85" y="664.93" width="8.83" height="69.17"/>
<rect x="366.68" y="655.99" width="8.83" height="78.11"/>
<rect x="375.51" y="645.86" width="8.83" height="88.24"/>
<rect x="384.34" y="634.33" width="8.83" height="99.77"/>
<rect x="393.17" y="620.84" width="8.83" height="113.26"/>
<rect x="402.00" y="605.17" width="8.83" height="128.93"/>
<rect x="410.83" y="589.56" width="8.83" height="144.54"/>
<rect x="419.66" y="574.76" width="8.83" height="159.34"/>
<rect x="428.49" y="561.26" width="8.83" height="172.84"/>
<rect x="437.32" y="550.87" width="8.83" height="183.23"/>
<rect x="446.15" y="544.14" width="8.83" height="189.96"/>
<rect x="454.98" y="541.18" width="8.83" height="192.92"/>
<rect x="463.81" y="542.53" width="8.83" height="191.57"/>
<rect x="472.64" y="549.77" width="8.83" height="184.33"/>
<rect x="481.47" y="563.00" width="8.83" height="171.10"/>
<rect x="490.30" y="579.24" width="8.83" height="154.86"/>
<rect x="499.13" y="599.76" width="8.83" height="134.34"/>
<rect x="507.96" y="624.07" width="8.83" height="110.03"/>
<rect x="516.79" y="643.56" width="8.83" height="90.54"/>
<rect x="525.62" y="662.44" width="8.83" height="71.66"/>
<rect x="534.45" y="686.60" width="8.83" height="47.50"/>
<rect x="543.28" y="695.94" width="8.83" height="38.16"/>
<rect x="552.12" y="691.27" width="8.83" height="42.83"/>
<rect x="560.95" y="680.10" width="8.83" height="54.00"/>
<rect x="569.78" y="671.17" width="8.83" height="62.93"/>
<rect x="578.61" y="663.46" width="8.83" height="70.64"/>
<rect x="587.44" y="656.55" width="8.83" height="77.55"/>
<rect x="596.27" y="651.28" width="8.83" height="82.82"/>
<rect x="605.10" y="645.59" width="8.83" height="88.51"/>
<rect x="613.93" y="645.39" width="8.83" height="88.71"/>
<rect x="622.76" y="645.56" width="8.83" height="88.54"/>
<rect x="631.59" y="646.54" width="8.83" height="87.56"/>
<rect x="640.42" y="649.46" width="8.83" height="84.64"/>
<rect x="649.25" y="654.08" width="8.83" height="80.02"/>
<rect x="658.08" y="659.13" width="8.83" height="74.97"/>
<rect x="666.91" y="664.79" width="8.83" height="69.31"/>
<rect x="675.74" y="670.91" width="8.83" height="63.19"/>
<rect x="684.57" y="677.42" width="8.83" height="56.68"/>
<rect x="693.40" y="684.12" width="8.83" height="49.98"/>
<rect x="702.23" y="690.48" width="8.83" height="43.62"/>
<rect x="711.06" y="696.51" width="8.83" height="37.59"/>
<rect x="719.89" y="701.76" width="8.83" height="32.34"/>
<rect x="728.72" y="705.99" width="8.83" height="28.11"/>
<rect x="737.55" y="709.50" width="8.83" height="24.60"/>
<rect x="746.38" y="712.38" width="8.83" height="21.72"/>
<rect x="755.21" y="714.75" width="8.83" height="19.35"/>
<rect x="764.04" y="716.79" width="8.83" height="17.31"/>
<rect x="772.87" y="718.62" width="8.83" height="15.48"/>
<rect x="781.70" y="720.24" width="8.83" height="13.86"/>
<rect x="790.53" y="721.73" width="8.83" height="12.37"/>
<rect x="799.36" y="723.09" width="8.83" height="11.01"/>
<rect x="808.19" y="724.23" width="8.83" height="9.87"/>
<rect x="817.02" y="725.17" width="8.83" height="8.93"/>
<rect x="825.85" y="725.97" width="8.83" height="8.13"/>
<rect x="834.68" y="726.70" width="8.83" height="7.40"/>
<rect x="843.52" y="727.35" width="8.83" height="6.75"/>
<rect x="852.35" y="727.88" width="8.83" height="6.22"/>
<rect x="861.18" y="728.29" width="8.83" height="5.81"/>
<rect x="870.01" y="728.67" width="8.83" height="5.43"/>
<rect x="878.84" y="729.11" width="8.83" height="4.99"/>
<rect x="887.67" y="729.60" width="8.83" height="4.50"/>
<rect x="896.50" y="730.07" width="8.83" height="4.03"/>
<rect x="905.33" y="730.49" width="8.83" height="3.61"/>
<rect x="914.16" y="730.88" width="8.83" height="3.22"/>
<rect x="922.99" y="731.23" width="8.83" height="2.87"/>
<rect x="931.82" y="731.56" width="8.83" height="2.54"/>
<rect x="940.65" y="731.85" width="8.83" height="2.25"/>
<rect x="949.48" y="732.13" width="8.83" height="1.97"/>
<rect x="958.31" y="732.36" width="8.83" height="1.74"/>
<rect x="967.14" y="732.54" width="8.83" height="1.56"/>
<rect x="975.97" y="732.65" width="8.83" height="1.45"/>
</g>
<path d="M110.6,729.8 L112.1,729.8 L113.5,729.8 L115.0,729.8 L116.4,729.7 L117.9,729.7 L119.4,729.6 L120.8,729.5 L122.3,729.5 L123.7,729.4 L125.2,729.3 L126.7,729.3 L128.1,729.2 L129.6,729.2 L131.0,729.1 L132.5,729.1 L134.0,729.0 L135.4,729.0 L136.9,728.9 L138.3,728.9 L139.8,728.8 L141.2,728.7 L142.7,728.7 L144.2,728.6 L145.6,728.6 L147.1,728.5 L148.5,728.5 L150.0,728.4 L151.5,728.4 L152.9,728.3 L154.4,728.2 L155.8,728.2 L157.3,728.1 L158.8,728.1 L160.2,728.0 L161.7,727.9 L163.1,727.9 L164.6,727.8 L166.1,727.7 L167.5,727.7 L169.0,727.6 L170.4,727.5 L171.9,727.4 L173.4,727.4 L174.8,727.3 L176.3,727.2 L177.7,727.1 L179.2,726.9 L180.7,726.8 L182.1,726.7 L183.6,726.6 L185.0,726.5 L186.5,726.3 L187.9,726.2 L189.4,726.1 L190.9,726.0 L192.3,725.8 L193.8,725.7 L195.2,725.6 L196.7,725.4 L198.2,725.3 L199.6,725.2 L201.1,725.1 L202.5,725.0 L204.0,724.8 L205.5,724.7 L206.9,724.6 L208.4,724.5 L209.8,724.3 L211.3,724.2 L212.8,724.0 L214.2,723.9 L215.7,723.8 L217.1,723.6 L218.6,723.4 L220.1,723.3 L221.5,723.1 L223.0,722.9 L224.4,722.7 L225.9,722.5 L227.4,722.3 L228.8,722.1 L230.3,721.9 L231.7,721.7 L233.2,721.5 L234.7,721.3 L236.1,721.1 L237.6,720.9 L239.0,720.7 L240.5,720.5 L241.9,720.3 L243.4,720.1 L244.9,719.9 L246.3,719.7 L247.8,719.5 L249.2,719.3 L250.7,719.1 L252.2,718.9 L253.6,718.7 L255.1,718.5 L256.5,718.3 L258.0,718.0 L259.5,717.8 L260.9,717.6 L262.4,717.3 L263.8,717.1 L265.3,716.8 L266.8,716.5 L268.2,716.2 L269.7,715.9 L271.1,715.6 L272.6,715.3 L274.1,715.0 L275.5,714.7 L277.0,714.3 L278.4,714.0 L279.9,713.6 L281.4,713.3 L282.8,712.9 L284.3,712.5 L285.7,712.1 L287.2,711.6 L288.7,711.2 L290.1,710.7 L291.6,710.2 L293.0,709.8 L294.5,709.2 L295.9,708.7 L297.4,708.2 L298.9,707.6 L300.3,707.0 L301.8,706.4 L303.2,705.8 L304.7,705.1 L306.2,704.4 L307.6,703.7 L309.1,703.0 L310.5,702.2 L312.0,701.4 L313.5,700.6 L314.9,699.7 L316.4,698.7 L317.8,697.8 L319.3,696.8 L320.8,695.8 L322.2,694.7 L323.7,693.7 L325.1,692.7 L326.6,691.7 L328.1,690.7 L329.5,689.7 L331.0,688.7 L332.4,687.8 L333.9,686.8 L335.4,685.9 L336.8,685.0 L338.3,684.0 L339.7,683.1 L341.2,682.1 L342.6,681.1 L344.1,680.1 L345.6,679.1 L347.0,678.0 L348.5,676.9 L349.9,675.8 L351.4,674.6 L352.9,673.4 L354.3,672.2 L355.8,670.9 L357.2,669.6 L358.7,668.3 L360.2,667.0 L361.6,665.6 L363.1,664.2 L364.5,662.8 L366.0,661.3 L367.5,659.9 L368.9,658.4 L370.4,656.8 L371.8,655.3 L373.3,653.7 L374.8,652.0 L376.2,650.3 L377.7,648.6 L379.1,646.9 L380.6,645.1 L382.1,643.3 L383.5,641.4 L385.0,639.5 L386.4,637.6 L387.9,635.6 L389.4,633.6 L390.8,631.5 L392.3,629.4 L393.7,627.2 L395.2,624.9 L396.6,622.5 L398.1,620.1 L399.6,617.6 L401.0,615.0 L402.5,612.4 L403.9,609.7 L405.4,607.0 L406.9,604.3 L408.3,601.7 L409.8,599.0 L411.2,596.4 L412.7,593.9 L414.2,591.4 L415.6,588.9 L417.1,586.4 L418.5,584.0 L420.0,581.5 L421.5,579.1 L422.9,576.6 L424.4,574.2 L425.8,571.8 L427.3,569.5 L428.8,567.2 L430.2,564.9 L431.7,562.8 L433.1,560.8 L434.6,558.8 L436.1,557.0 L437.5,555.2 L439.0,553.6 L440.4,552.0 L441.9,550.5 L443.4,549.1 L444.8,547.8 L446.3,546.7 L447.7,545.7 L449.2,544.7 L450.6,543.9 L452.1,543.2 L453.6,542.5 L455.0,542.0 L456.5,541.5 L457.9,541.1 L459.4,540.9 L460.9,540.9 L462.3,540.9 L463.8,541.1 L465.2,541.4 L466.7,541.8 L468.2,542.3 L469.6,542.9 L471.1,543.6 L472.5,544.6 L474.0,545.8 L475.5,547.4 L476.9,549.2 L478.4,551.3 L479.8,553.4 L481.3,555.7 L482.8,557.9 L484.2,560.2 L485.7,562.5 L487.1,564.9 L488.6,567.4 L490.1,569.9 L491.5,572.6 L493.0,575.4 L494.4,578.3 L495.9,581.4 L497.3,584.7 L498.8,588.2 L500.3,591.7 L501.7,595.3 L503.2,598.9 L504.6,602.5 L506.1,606.0 L507.6,609.6 L509.0,613.1 L510.5,616.6 L511.9,620.1 L513.4,623.6 L514.9,627.0 L516.3,630.4 L517.8,633.8 L519.2,637.1 L520.7,640.4 L522.2,643.6 L523.6,646.9 L525.1,650.1 L526.5,653.4 L528.0,656.6 L529.5,659.9 L530.9,663.2 L532.4,666.5 L533.8,669.7 L535.3,672.8 L536.8,675.7 L538.2,678.4 L539.7,680.9 L541.1,683.2 L542.6,685.2 L544.1,686.9 L545.5,688.4 L547.0,689.5 L548.4,690.2 L549.9,690.6 L551.3,690.7 L552.8,690.4 L554.3,689.8 L555.7,689.0 L557.2,688.0 L558.6,686.8 L560.1,685.4 L561.6,683.9 L563.0,682.4 L564.5,680.9 L565.9,679.5 L567.4,678.1 L568.9,676.8 L570.3,675.4 L571.8,674.1 L573.2,672.7 L574.7,671.3 L576.2,669.9 L577.6,668.5 L579.1,667.1 L580.5,665.8 L582.0,664.5 L583.5,663.3 L584.9,662.1 L586.4,660.9 L587.8,659.8 L589.3,658.7 L590.8,657.7 L592.2,656.6 L593.7,655.6 L595.1,654.6 L596.6,653.6 L598.1,652.7 L599.5,651.7 L601.0,650.8 L602.4,650.0 L603.9,649.2 L605.3,648.6 L606.8,648.0 L608.3,647.5 L609.7,647.0 L611.2,646.5 L612.6,646.2 L614.1,645.9 L615.6,645.7 L617.0,645.5 L618.5,645.4 L619.9,645.4 L621.4,645.4 L622.9,645.4 L624.3,645.4 L625.8,645.5 L627.2,645.5 L628.7,645.6 L630.2,645.7 L631.6,645.8 L633.1,646.0 L634.5,646.2 L636.0,646.4 L637.5,646.7 L638.9,647.1 L640.4,647.5 L641.8,648.1 L643.3,648.7 L644.8,649.3 L646.2,650.0 L647.7,650.8 L649.1,651.6 L650.6,652.4 L652.0,653.2 L653.5,654.0 L655.0,654.8 L656.4,655.6 L657.9,656.4 L659.3,657.3 L660.8,658.1 L662.3,658.9 L663.7,659.8 L665.2,660.7 L666.6,661.7 L668.1,662.6 L669.6,663.6 L671.0,664.6 L672.5,665.6 L673.9,666.6 L675.4,667.6 L676.9,668.6 L678.3,669.6 L679.8,670.6 L681.2,671.7 L682.7,672.7 L684.2,673.8 L685.6,674.9 L687.1,676.0 L688.5,677.1 L690.0,678.2 L691.5,679.3 L692.9,680.4 L694.4,681.5 L695.8,682.7 L697.3,683.8 L698.8,684.8 L700.2,685.9 L701.7,687.0 L703.1,688.0 L704.6,689.0 L706.0,690.1 L707.5,691.1 L709.0,692.1 L710.4,693.1 L711.9,694.1 L713.3,695.1 L714.8,696.1 L716.3,697.1 L717.7,698.0 L719.2,698.9 L720.6,699.8 L722.1,700.6 L723.6,701.4 L725.0,702.2 L726.5,702.9 L727.9,703.6 L729.4,704.3 L730.9,705.0 L732.3,705.7 L733.8,706.3 L735.2,706.9 L736.7,707.5 L738.2,708.1 L739.6,708.7 L741.1,709.2 L742.5,709.7 L744.0,710.2 L745.5,710.7 L746.9,711.2 L748.4,711.7 L749.8,712.1 L751.3,712.5 L752.8,713.0 L754.2,713.4 L755.7,713.8 L757.1,714.1 L758.6,714.5 L760.0,714.9 L761.5,715.2 L763.0,715.6 L764.4,715.9 L765.9,716.2 L767.3,716.6 L768.8,716.9 L770.3,717.2 L771.7,717.5 L773.2,717.8 L774.6,718.1 L776.1,718.4 L777.6,718.7 L779.0,719.0 L780.5,719.2 L781.9,719.5 L783.4,719.8 L784.9,720.0 L786.3,720.3 L787.8,720.5 L789.2,720.8 L790.7,721.0 L792.2,721.3 L793.6,721.5 L795.1,721.8 L796.5,722.0 L798.0,722.2 L799.5,722.5 L800.9,722.7 L802.4,722.9 L803.8,723.1 L805.3,723.3 L806.7,723.5 L808.2,723.7 L809.7,723.9 L811.1,724.1 L812.6,724.2 L814.0,724.4 L815.5,724.6 L817.0,724.7 L818.4,724.9 L819.9,725.0 L821.3,725.2 L822.8,725.3 L824.3,725.4 L825.7,725.6 L827.2,725.7 L828.6,725.8 L830.1,726.0 L831.6,726.1 L833.0,726.2 L834.5,726.3 L835.9,726.5 L837.4,726.6 L838.9,726.7 L840.3,726.8 L841.8,726.9 L843.2,727.0 L844.7,727.1 L846.2,727.2 L847.6,727.3 L849.1,727.4 L850.5,727.5 L852.0,727.6 L853.5,727.7 L854.9,727.8 L856.4,727.9 L857.8,727.9 L859.3,728.0 L860.7,728.1 L862.2,728.1 L863.7,728.2 L865.1,728.3 L866.6,728.3 L868.0,728.4 L869.5,728.5 L871.0,728.5 L872.4,728.6 L873.9,728.6 L875.3,728.7 L876.8,728.8 L878.3,728.9 L879.7,728.9 L881.2,729.0 L882.6,729.1 L884.1,729.2 L885.6,729.2 L887.0,729.3 L888.5,729.4 L889.9,729.5 L891.4,729.6 L892.9,729.6 L894.3,729.7 L895.8,729.8 L897.2,729.9 L898.7,730.0 L900.2,730.0 L901.6,730.1 L903.1,730.2 L904.5,730.2 L906.0,730.3 L907.5,730.4 L908.9,730.5 L910.4,730.5 L911.8,730.6 L913.3,730.7 L914.7,730.7 L916.2,730.8 L917.7,730.8 L919.1,730.9 L920.6,731.0 L922.0,731.0 L923.5,731.1 L925.0,731.1 L926.4,731.2 L927.9,731.3 L929.3,731.3 L930.8,731.4 L932.3,731.4 L933.7,731.5 L935.2,731.5 L936.6,731.6 L938.1,731.6 L939.6,731.7 L941.0,731.7 L942.5,731.8 L943.9,731.8 L945.4,731.9 L946.9,731.9 L948.3,732.0 L949.8,732.0 L951.2,732.0 L952.7,732.1 L954.2,732.1 L955.6,732.2 L957.1,732.2 L958.5,732.3 L960.0,732.3 L961.4,732.3 L962.9,732.4 L964.4,732.4 L965.8,732.4 L967.3,732.5 L968.7,732.5 L970.2,732.5 L971.7,732.5 L973.1,732.6 L974.6,732.6 L976.0,732.6 L977.5,732.6 L979.0,732.6 L980.4,732.7 L981.9,732.7 L983.3,732.7 L984.8,732.7" fill="none" stroke="rgb(217,83,25)" stroke-width="4.0" stroke-linejoin="round"/>
<g font-family="DejaVu Sans, Liberation Sans, sans-serif" font-size="31.0" fill="#262626">
<text transform="translate(101.4,705.15) scale(0.955,1)" text-anchor="end">20</text>
<text transform="translate(101.4,664.55) scale(0.955,1)" text-anchor="end">40</text>
<text transform="translate(101.4,623.95) scale(0.955,1)" text-anchor="end">60</text>
<text transform="translate(101.4,583.35) scale(0.955,1)" text-anchor="end">80</text>
<text transform="translate(110.60,772.20) scale(0.955,1)" text-anchor="middle">-0.02</text>
<text transform="translate(219.88,772.20) scale(0.955,1)" text-anchor="middle">-0.015</text>
<text transform="translate(329.15,772.20) scale(0.955,1)" text-anchor="middle">-0.01</text>
<text transform="translate(438.42,772.20) scale(0.955,1)" text-anchor="middle">-0.005</text>
<text transform="translate(547.70,772.20) scale(0.955,1)" text-anchor="middle">0</text>
<text transform="translate(656.98,772.20) scale(0.955,1)" text-anchor="middle">0.005</text>
<text transform="translate(766.25,772.20) scale(0.955,1)" text-anchor="middle">0.01</text>
<text transform="translate(875.53,772.20) scale(0.955,1)" text-anchor="middle">0.015</text>
<text transform="translate(984.80,772.20) scale(0.955,1)" text-anchor="middle">0.02</text>
</g>
<text transform="translate(44.88,659.22) rotate(-90) scale(1.1049,1.0002)" font-family="Liberation Serif, DejaVu Serif, serif" font-size="31.6" fill="#262626">pdf</text>
<text transform="translate(657.09,584.60) scale(1.0140,1.0000)" font-family="Liberation Serif, DejaVu Serif, serif" font-weight="bold" stroke="#fff" stroke-width="0.45" font-size="28.7" fill="#000">K</text>
<text transform="translate(690.22,584.60) scale(1.5211,1.0000)" font-family="Liberation Serif, DejaVu Serif, serif" font-weight="bold" stroke="#fff" stroke-width="0.45" font-size="28.7" fill="#000">=</text>
<text transform="translate(723.52,584.60) scale(1.0964,0.9400)" font-family="Liberation Serif, DejaVu Serif, serif" font-weight="bold" stroke="#fff" stroke-width="0.45" font-size="28.7" fill="#000">0.1</text>
<text transform="translate(775.85,584.60) scale(1.0345,1.0000)" font-family="Liberation Serif, DejaVu Serif, serif" font-weight="bold" stroke="#fff" stroke-width="0.45" font-size="28.7" fill="#000">W</text>
<text transform="translate(816.58,584.60) scale(1.0398,1.0000)" font-family="Liberation Serif, DejaVu Serif, serif" font-weight="bold" stroke="#fff" stroke-width="0.45" font-size="28.7" fill="#000">m</text>
<text transform="translate(842.73,576.35) scale(1.5195,1.0000)" font-family="Liberation Serif, DejaVu Serif, serif" font-size="16.7" fill="#000">−</text>
<text transform="translate(855.54,575.20) scale(1.2061,1.0000)" font-family="Liberation Serif, DejaVu Serif, serif" font-size="16.7" fill="#000">1</text>
<text transform="translate(877.99,584.60) scale(1.0187,1.0000)" font-family="Liberation Serif, DejaVu Serif, serif" font-weight="bold" stroke="#fff" stroke-width="0.45" font-size="28.7" fill="#000">K</text>
<text transform="translate(902.33,576.35) scale(1.5195,1.0000)" font-family="Liberation Serif, DejaVu Serif, serif" font-size="16.7" fill="#000">−</text>
<text transform="translate(915.44,575.20) scale(1.0702,1.0000)" font-family="Liberation Serif, DejaVu Serif, serif" font-size="16.7" fill="#000">1</text>
<g stroke="#262626" stroke-width="1.1" stroke-opacity="0.75" fill="none">
<line x1="110.6" y1="804.7" x2="110.6" y2="998.3"/>
<line x1="110.6" y1="952.1" x2="119.4" y2="952.1"/>
<line x1="110.6" y1="905.9" x2="119.4" y2="905.9"/>
<line x1="110.6" y1="859.7" x2="119.4" y2="859.7"/>
<line x1="110.6" y1="813.5" x2="119.4" y2="813.5"/>
<line x1="110.6" y1="998.3" x2="110.6" y2="989.8"/>
<line x1="219.9" y1="998.3" x2="219.9" y2="989.8"/>
<line x1="329.1" y1="998.3" x2="329.1" y2="989.8"/>
<line x1="438.4" y1="998.3" x2="438.4" y2="989.8"/>
<line x1="547.7" y1="998.3" x2="547.7" y2="989.8"/>
<line x1="657.0" y1="998.3" x2="657.0" y2="989.8"/>
<line x1="766.2" y1="998.3" x2="766.2" y2="989.8"/>
<line x1="875.5" y1="998.3" x2="875.5" y2="989.8"/>
<line x1="984.8" y1="998.3" x2="984.8" y2="989.8"/>
</g>
<g fill="rgb(0,114,189)" fill-opacity="0.6" stroke="rgb(10,20,30)" stroke-opacity="0.55" stroke-width="1.25">
<rect x="110.60" y="997.92" width="8.83" height="0.38"/>
<rect x="119.43" y="997.88" width="8.83" height="0.42"/>
<rect x="128.26" y="997.80" width="8.83" height="0.50"/>
<rect x="137.09" y="997.70" width="8.83" height="0.60"/>
<rect x="145.92" y="997.59" width="8.83" height="0.71"/>
<rect x="154.75" y="997.49" width="8.83" height="0.81"/>
<rect x="163.58" y="997.40" width="8.83" height="0.90"/>
<rect x="172.41" y="997.31" width="8.83" height="0.99"/>
<rect x="181.24" y="997.22" width="8.83" height="1.08"/>
<rect x="190.07" y="997.13" width="8.83" height="1.17"/>
<rect x="198.90" y="997.02" width="8.83" height="1.28"/>
<rect x="207.73" y="996.90" width="8.83" height="1.40"/>
<rect x="216.56" y="996.77" width="8.83" height="1.53"/>
<rect x="225.39" y="996.61" width="8.83" height="1.69"/>
<rect x="234.22" y="996.43" width="8.83" height="1.87"/>
<rect x="243.05" y="996.23" width="8.83" height="2.07"/>
<rect x="251.88" y="996.01" width="8.83" height="2.29"/>
<rect x="260.72" y="995.77" width="8.83" height="2.53"/>
<rect x="269.55" y="995.53" width="8.83" height="2.77"/>
<rect x="278.38" y="995.28" width="8.83" height="3.02"/>
<rect x="287.21" y="995.02" width="8.83" height="3.28"/>
<rect x="296.04" y="994.74" width="8.83" height="3.56"/>
<rect x="304.87" y="994.44" width="8.83" height="3.86"/>
<rect x="313.70" y="994.09" width="8.83" height="4.21"/>
<rect x="322.53" y="993.70" width="8.83" height="4.60"/>
<rect x="331.36" y="996.08" width="8.83" height="2.22"/>
<rect x="340.19" y="995.53" width="8.83" height="2.77"/>
<rect x="349.02" y="994.42" width="8.83" height="3.88"/>
<rect x="357.85" y="993.40" width="8.83" height="4.90"/>
<rect x="366.68" y="991.74" width="8.83" height="6.56"/>
<rect x="375.51" y="990.08" width="8.83" height="8.22"/>
<rect x="384.34" y="987.40" width="8.83" height="10.90"/>
<rect x="393.17" y="983.61" width="8.83" height="14.69"/>
<rect x="402.00" y="978.80" width="8.83" height="19.50"/>
<rect x="410.83" y="972.89" width="8.83" height="25.41"/>
<rect x="419.66" y="964.30" width="8.83" height="34.00"/>
<rect x="428.49" y="952.56" width="8.83" height="45.74"/>
<rect x="437.32" y="935.56" width="8.83" height="62.74"/>
<rect x="446.15" y="913.75" width="8.83" height="84.55"/>
<rect x="454.98" y="885.11" width="8.83" height="113.19"/>
<rect x="463.81" y="854.34" width="8.83" height="143.96"/>
<rect x="472.64" y="826.81" width="8.83" height="171.49"/>
<rect x="481.47" y="806.66" width="8.83" height="191.64"/>
<rect x="490.30" y="806.02" width="8.83" height="192.28"/>
<rect x="499.13" y="824.50" width="8.83" height="173.80"/>
<rect x="507.96" y="863.21" width="8.83" height="135.09"/>
<rect x="516.79" y="900.36" width="8.83" height="97.94"/>
<rect x="525.62" y="921.89" width="8.83" height="76.41"/>
<rect x="534.45" y="933.07" width="8.83" height="65.23"/>
<rect x="543.28" y="932.33" width="8.83" height="65.97"/>
<rect x="552.12" y="922.72" width="8.83" height="75.58"/>
<rect x="560.95" y="921.91" width="8.83" height="76.39"/>
<rect x="569.78" y="927.40" width="8.83" height="70.90"/>
<rect x="578.61" y="938.26" width="8.83" height="60.04"/>
<rect x="587.44" y="950.86" width="8.83" height="47.44"/>
<rect x="596.27" y="962.20" width="8.83" height="36.10"/>
<rect x="605.10" y="971.90" width="8.83" height="26.40"/>
<rect x="613.93" y="979.49" width="8.83" height="18.81"/>
<rect x="622.76" y="984.56" width="8.83" height="13.74"/>
<rect x="631.59" y="987.93" width="8.83" height="10.37"/>
<rect x="640.42" y="990.11" width="8.83" height="8.19"/>
<rect x="649.25" y="991.69" width="8.83" height="6.61"/>
<rect x="658.08" y="992.92" width="8.83" height="5.38"/>
<rect x="666.91" y="993.93" width="8.83" height="4.37"/>
<rect x="675.74" y="994.58" width="8.83" height="3.72"/>
<rect x="684.57" y="994.91" width="8.83" height="3.39"/>
<rect x="693.40" y="995.15" width="8.83" height="3.15"/>
<rect x="702.23" y="995.33" width="8.83" height="2.97"/>
<rect x="711.06" y="995.50" width="8.83" height="2.80"/>
<rect x="719.89" y="995.69" width="8.83" height="2.61"/>
<rect x="728.72" y="995.93" width="8.83" height="2.37"/>
<rect x="737.55" y="996.19" width="8.83" height="2.11"/>
<rect x="746.38" y="996.45" width="8.83" height="1.85"/>
<rect x="755.21" y="996.67" width="8.83" height="1.63"/>
<rect x="764.04" y="996.80" width="8.83" height="1.50"/>
<rect x="772.87" y="996.85" width="8.83" height="1.45"/>
<rect x="781.70" y="996.89" width="8.83" height="1.41"/>
<rect x="790.53" y="996.91" width="8.83" height="1.39"/>
<rect x="799.36" y="996.93" width="8.83" height="1.37"/>
<rect x="808.19" y="996.95" width="8.83" height="1.35"/>
<rect x="817.02" y="996.97" width="8.83" height="1.33"/>
<rect x="825.85" y="997.00" width="8.83" height="1.30"/>
<rect x="834.68" y="997.04" width="8.83" height="1.26"/>
<rect x="843.52" y="997.10" width="8.83" height="1.20"/>
<rect x="852.35" y="997.18" width="8.83" height="1.12"/>
<rect x="861.18" y="997.26" width="8.83" height="1.04"/>
<rect x="870.01" y="997.35" width="8.83" height="0.95"/>
<rect x="878.84" y="997.43" width="8.83" height="0.87"/>
<rect x="887.67" y="997.50" width="8.83" height="0.80"/>
<rect x="896.50" y="997.56" width="8.83" height="0.74"/>
<rect x="905.33" y="997.62" width="8.83" height="0.68"/>
<rect x="914.16" y="997.67" width="8.83" height="0.63"/>
<rect x="922.99" y="997.72" width="8.83" height="0.58"/>
<rect x="931.82" y="997.77" width="8.83" height="0.53"/>
<rect x="940.65" y="997.82" width="8.83" height="0.48"/>
<rect x="949.48" y="997.86" width="8.83" height="0.44"/>
<rect x="958.31" y="997.89" width="8.83" height="0.41"/>
<rect x="967.14" y="997.92" width="8.83" height="0.38"/>
<rect x="975.97" y="997.93" width="8.83" height="0.37"/>
</g>
<path d="M110.6,997.9 L112.1,997.9 L113.5,997.9 L115.0,997.9 L116.4,997.9 L117.9,997.9 L119.4,997.9 L120.8,997.9 L122.3,997.9 L123.7,997.9 L125.2,997.9 L126.7,997.9 L128.1,997.8 L129.6,997.8 L131.0,997.8 L132.5,997.8 L134.0,997.8 L135.4,997.8 L136.9,997.8 L138.3,997.7 L139.8,997.7 L141.2,997.7 L142.7,997.7 L144.2,997.7 L145.6,997.7 L147.1,997.6 L148.5,997.6 L150.0,997.6 L151.5,997.6 L152.9,997.6 L154.4,997.5 L155.8,997.5 L157.3,997.5 L158.8,997.5 L160.2,997.5 L161.7,997.5 L163.1,997.5 L164.6,997.4 L166.1,997.4 L167.5,997.4 L169.0,997.4 L170.4,997.4 L171.9,997.4 L173.4,997.3 L174.8,997.3 L176.3,997.3 L177.7,997.3 L179.2,997.3 L180.7,997.3 L182.1,997.3 L183.6,997.2 L185.0,997.2 L186.5,997.2 L187.9,997.2 L189.4,997.2 L190.9,997.2 L192.3,997.2 L193.8,997.1 L195.2,997.1 L196.7,997.1 L198.2,997.1 L199.6,997.1 L201.1,997.0 L202.5,997.0 L204.0,997.0 L205.5,997.0 L206.9,997.0 L208.4,997.0 L209.8,996.9 L211.3,996.9 L212.8,996.9 L214.2,996.9 L215.7,996.9 L217.1,996.8 L218.6,996.8 L220.1,996.8 L221.5,996.8 L223.0,996.7 L224.4,996.7 L225.9,996.7 L227.4,996.7 L228.8,996.6 L230.3,996.6 L231.7,996.6 L233.2,996.5 L234.7,996.5 L236.1,996.5 L237.6,996.5 L239.0,996.4 L240.5,996.4 L241.9,996.4 L243.4,996.3 L244.9,996.3 L246.3,996.3 L247.8,996.2 L249.2,996.2 L250.7,996.1 L252.2,996.1 L253.6,996.1 L255.1,996.0 L256.5,996.0 L258.0,996.0 L259.5,995.9 L260.9,995.9 L262.4,995.8 L263.8,995.8 L265.3,995.8 L266.8,995.7 L268.2,995.7 L269.7,995.7 L271.1,995.6 L272.6,995.6 L274.1,995.5 L275.5,995.5 L277.0,995.4 L278.4,995.4 L279.9,995.4 L281.4,995.3 L282.8,995.3 L284.3,995.2 L285.7,995.2 L287.2,995.2 L288.7,995.1 L290.1,995.1 L291.6,995.0 L293.0,995.0 L294.5,994.9 L295.9,994.9 L297.4,994.8 L298.9,994.8 L300.3,994.8 L301.8,994.7 L303.2,994.7 L304.7,994.6 L306.2,994.6 L307.6,994.5 L309.1,994.4 L310.5,994.4 L312.0,994.3 L313.5,994.3 L314.9,994.2 L316.4,994.2 L317.8,994.1 L319.3,994.0 L320.8,994.0 L322.2,993.9 L323.7,993.9 L325.1,993.8 L326.6,993.7 L328.1,993.6 L329.5,993.6 L331.0,993.5 L332.4,993.4 L333.9,993.3 L335.4,993.3 L336.8,993.2 L338.3,993.1 L339.7,993.0 L341.2,992.9 L342.6,992.8 L344.1,992.7 L345.6,992.6 L347.0,992.4 L348.5,992.3 L349.9,992.2 L351.4,992.0 L352.9,991.9 L354.3,991.7 L355.8,991.6 L357.2,991.4 L358.7,991.2 L360.2,991.0 L361.6,990.8 L363.1,990.5 L364.5,990.3 L366.0,990.1 L367.5,989.8 L368.9,989.6 L370.4,989.3 L371.8,989.0 L373.3,988.8 L374.8,988.5 L376.2,988.2 L377.7,987.9 L379.1,987.5 L380.6,987.2 L382.1,986.8 L383.5,986.5 L385.0,986.1 L386.4,985.7 L387.9,985.3 L389.4,984.9 L390.8,984.5 L392.3,984.0 L393.7,983.6 L395.2,983.1 L396.6,982.5 L398.1,981.9 L399.6,981.3 L401.0,980.7 L402.5,980.0 L403.9,979.2 L405.4,978.5 L406.9,977.6 L408.3,976.8 L409.8,975.8 L411.2,974.8 L412.7,973.8 L414.2,972.7 L415.6,971.6 L417.1,970.4 L418.5,969.3 L420.0,968.0 L421.5,966.7 L422.9,965.4 L424.4,963.9 L425.8,962.2 L427.3,960.4 L428.8,958.4 L430.2,956.3 L431.7,954.1 L433.1,951.8 L434.6,949.3 L436.1,946.7 L437.5,943.9 L439.0,940.9 L440.4,937.8 L441.9,934.7 L443.4,931.7 L444.8,928.9 L446.3,925.9 L447.7,922.7 L449.2,919.0 L450.6,914.4 L452.1,909.2 L453.6,904.2 L455.0,899.5 L456.5,895.1 L457.9,890.5 L459.4,885.4 L460.9,879.9 L462.3,874.3 L463.8,869.0 L465.2,863.7 L466.7,858.3 L468.2,852.7 L469.6,846.9 L471.1,841.2 L472.5,835.5 L474.0,830.2 L475.5,825.4 L476.9,821.0 L478.4,817.2 L479.8,814.0 L481.3,811.4 L482.8,809.2 L484.2,807.4 L485.7,806.2 L487.1,805.1 L488.6,804.3 L490.1,803.8 L491.5,803.9 L493.0,804.8 L494.4,806.7 L495.9,809.3 L497.3,812.3 L498.8,815.5 L500.3,819.3 L501.7,823.7 L503.2,828.8 L504.6,834.7 L506.1,841.4 L507.6,848.6 L509.0,856.0 L510.5,863.0 L511.9,869.6 L513.4,876.1 L514.9,882.6 L516.3,888.6 L517.8,894.1 L519.2,899.0 L520.7,903.4 L522.2,907.5 L523.6,911.3 L525.1,914.6 L526.5,917.5 L528.0,919.9 L529.5,921.9 L530.9,923.7 L532.4,925.2 L533.8,926.7 L535.3,928.3 L536.8,929.9 L538.2,931.6 L539.7,933.1 L541.1,934.3 L542.6,934.9 L544.1,934.7 L545.5,933.5 L547.0,931.7 L548.4,929.5 L549.9,927.5 L551.3,926.0 L552.8,924.8 L554.3,923.8 L555.7,922.9 L557.2,922.1 L558.6,921.5 L560.1,921.1 L561.6,921.0 L563.0,921.1 L564.5,921.4 L565.9,921.8 L567.4,922.4 L568.9,923.1 L570.3,923.9 L571.8,924.8 L573.2,926.0 L574.7,927.5 L576.2,929.2 L577.6,931.0 L579.1,932.9 L580.5,934.8 L582.0,936.7 L583.5,938.8 L584.9,940.8 L586.4,943.0 L587.8,945.1 L589.3,947.2 L590.8,949.3 L592.2,951.4 L593.7,953.5 L595.1,955.6 L596.6,957.5 L598.1,959.3 L599.5,961.0 L601.0,962.6 L602.4,964.2 L603.9,965.7 L605.3,967.2 L606.8,968.9 L608.3,970.6 L609.7,972.3 L611.2,974.0 L612.6,975.3 L614.1,976.5 L615.6,977.6 L617.0,978.7 L618.5,979.7 L619.9,980.6 L621.4,981.5 L622.9,982.4 L624.3,983.2 L625.8,984.0 L627.2,984.7 L628.7,985.4 L630.2,986.0 L631.6,986.5 L633.1,987.1 L634.5,987.6 L636.0,988.0 L637.5,988.4 L638.9,988.8 L640.4,989.1 L641.8,989.5 L643.3,989.8 L644.8,990.1 L646.2,990.4 L647.7,990.7 L649.1,991.0 L650.6,991.2 L652.0,991.5 L653.5,991.7 L655.0,991.9 L656.4,992.1 L657.9,992.3 L659.3,992.5 L660.8,992.7 L662.3,992.9 L663.7,993.1 L665.2,993.3 L666.6,993.4 L668.1,993.6 L669.6,993.8 L671.0,993.9 L672.5,994.1 L673.9,994.2 L675.4,994.3 L676.9,994.4 L678.3,994.5 L679.8,994.6 L681.2,994.6 L682.7,994.7 L684.2,994.8 L685.6,994.8 L687.1,994.9 L688.5,994.9 L690.0,994.9 L691.5,995.0 L692.9,995.0 L694.4,995.1 L695.8,995.1 L697.3,995.1 L698.8,995.2 L700.2,995.2 L701.7,995.2 L703.1,995.3 L704.6,995.3 L706.0,995.3 L707.5,995.3 L709.0,995.4 L710.4,995.4 L711.9,995.4 L713.3,995.5 L714.8,995.5 L716.3,995.5 L717.7,995.5 L719.2,995.6 L720.6,995.6 L722.1,995.6 L723.6,995.7 L725.0,995.7 L726.5,995.7 L727.9,995.8 L729.4,995.8 L730.9,995.9 L732.3,995.9 L733.8,995.9 L735.2,996.0 L736.7,996.0 L738.2,996.1 L739.6,996.1 L741.1,996.2 L742.5,996.2 L744.0,996.3 L745.5,996.3 L746.9,996.3 L748.4,996.4 L749.8,996.4 L751.3,996.5 L752.8,996.5 L754.2,996.5 L755.7,996.6 L757.1,996.6 L758.6,996.7 L760.0,996.7 L761.5,996.7 L763.0,996.7 L764.4,996.8 L765.9,996.8 L767.3,996.8 L768.8,996.8 L770.3,996.8 L771.7,996.8 L773.2,996.8 L774.6,996.8 L776.1,996.8 L777.6,996.9 L779.0,996.9 L780.5,996.9 L781.9,996.9 L783.4,996.9 L784.9,996.9 L786.3,996.9 L787.8,996.9 L789.2,996.9 L790.7,996.9 L792.2,996.9 L793.6,996.9 L795.1,996.9 L796.5,996.9 L798.0,996.9 L799.5,996.9 L800.9,996.9 L802.4,996.9 L803.8,996.9 L805.3,996.9 L806.7,996.9 L808.2,996.9 L809.7,996.9 L811.1,996.9 L812.6,996.9 L814.0,996.9 L815.5,997.0 L817.0,997.0 L818.4,997.0 L819.9,997.0 L821.3,997.0 L822.8,997.0 L824.3,997.0 L825.7,997.0 L827.2,997.0 L828.6,997.0 L830.1,997.0 L831.6,997.0 L833.0,997.0 L834.5,997.0 L835.9,997.0 L837.4,997.0 L838.9,997.0 L840.3,997.0 L841.8,997.1 L843.2,997.1 L844.7,997.1 L846.2,997.1 L847.6,997.1 L849.1,997.1 L850.5,997.1 L852.0,997.1 L853.5,997.1 L854.9,997.2 L856.4,997.2 L857.8,997.2 L859.3,997.2 L860.7,997.2 L862.2,997.2 L863.7,997.2 L865.1,997.3 L866.6,997.3 L868.0,997.3 L869.5,997.3 L871.0,997.3 L872.4,997.3 L873.9,997.3 L875.3,997.4 L876.8,997.4 L878.3,997.4 L879.7,997.4 L881.2,997.4 L882.6,997.4 L884.1,997.4 L885.6,997.5 L887.0,997.5 L888.5,997.5 L889.9,997.5 L891.4,997.5 L892.9,997.5 L894.3,997.5 L895.8,997.5 L897.2,997.5 L898.7,997.6 L900.2,997.6 L901.6,997.6 L903.1,997.6 L904.5,997.6 L906.0,997.6 L907.5,997.6 L908.9,997.6 L910.4,997.6 L911.8,997.6 L913.3,997.6 L914.7,997.6 L916.2,997.7 L917.7,997.7 L919.1,997.7 L920.6,997.7 L922.0,997.7 L923.5,997.7 L925.0,997.7 L926.4,997.7 L927.9,997.7 L929.3,997.7 L930.8,997.7 L932.3,997.8 L933.7,997.8 L935.2,997.8 L936.6,997.8 L938.1,997.8 L939.6,997.8 L941.0,997.8 L942.5,997.8 L943.9,997.8 L945.4,997.8 L946.9,997.8 L948.3,997.8 L949.8,997.8 L951.2,997.9 L952.7,997.9 L954.2,997.9 L955.6,997.9 L957.1,997.9 L958.5,997.9 L960.0,997.9 L961.4,997.9 L962.9,997.9 L964.4,997.9 L965.8,997.9 L967.3,997.9 L968.7,997.9 L970.2,997.9 L971.7,997.9 L973.1,997.9 L974.6,997.9 L976.0,997.9 L977.5,997.9 L979.0,997.9 L980.4,997.9 L981.9,997.9 L983.3,997.9 L984.8,997.9" fill="none" stroke="rgb(217,83,25)" stroke-width="4.0" stroke-linejoin="round"/>
<g font-family="DejaVu Sans, Liberation Sans, sans-serif" font-size="31.0" fill="#262626">
<text transform="translate(101.4,963.75) scale(0.955,1)" text-anchor="end">50</text>
<text transform="translate(101.4,917.55) scale(0.955,1)" text-anchor="end">100</text>
<text transform="translate(101.4,871.35) scale(0.955,1)" text-anchor="end">150</text>
<text transform="translate(101.4,825.15) scale(0.955,1)" text-anchor="end">200</text>
<text transform="translate(110.60,1036.40) scale(0.955,1)" text-anchor="middle">-0.02</text>
<text transform="translate(219.88,1036.40) scale(0.955,1)" text-anchor="middle">-0.015</text>
<text transform="translate(329.15,1036.40) scale(0.955,1)" text-anchor="middle">-0.01</text>
<text transform="translate(438.42,1036.40) scale(0.955,1)" text-anchor="middle">-0.005</text>
<text transform="translate(547.70,1036.40) scale(0.955,1)" text-anchor="middle">0</text>
<text transform="translate(656.98,1036.40) scale(0.955,1)" text-anchor="middle">0.005</text>
<text transform="translate(766.25,1036.40) scale(0.955,1)" text-anchor="middle">0.01</text>
<text transform="translate(875.53,1036.40) scale(0.955,1)" text-anchor="middle">0.015</text>
<text transform="translate(984.80,1036.40) scale(0.955,1)" text-anchor="middle">0.02</text>
</g>
<text transform="translate(27.31,923.63) rotate(-90) scale(1.1145,1.0106)" font-family="Liberation Serif, DejaVu Serif, serif" font-size="31.6" fill="#262626">pdf</text>
<text transform="translate(657.09,848.80) scale(1.0140,1.0000)" font-family="Liberation Serif, DejaVu Serif, serif" font-weight="bold" stroke="#fff" stroke-width="0.45" font-size="28.7" fill="#000">K</text>
<text transform="translate(690.22,848.80) scale(1.5211,1.0000)" font-family="Liberation Serif, DejaVu Serif, serif" font-weight="bold" stroke="#fff" stroke-width="0.45" font-size="28.7" fill="#000">=</text>
<text transform="translate(721.39,848.80) scale(1.1814,0.9400)" font-family="Liberation Serif, DejaVu Serif, serif" font-weight="bold" stroke="#fff" stroke-width="0.45" font-size="28.7" fill="#000">1.0</text>
<text transform="translate(775.85,848.80) scale(1.0345,1.0000)" font-family="Liberation Serif, DejaVu Serif, serif" font-weight="bold" stroke="#fff" stroke-width="0.45" font-size="28.7" fill="#000">W</text>
<text transform="translate(816.58,848.80) scale(1.0398,1.0000)" font-family="Liberation Serif, DejaVu Serif, serif" font-weight="bold" stroke="#fff" stroke-width="0.45" font-size="28.7" fill="#000">m</text>
<text transform="translate(842.73,840.55) scale(1.5195,1.0000)" font-family="Liberation Serif, DejaVu Serif, serif" font-size="16.7" fill="#000">−</text>
<text transform="translate(855.54,839.40) scale(1.2061,1.0000)" font-family="Liberation Serif, DejaVu Serif, serif" font-size="16.7" fill="#000">1</text>
<text transform="translate(877.99,848.80) scale(1.0187,1.0000)" font-family="Liberation Serif, DejaVu Serif, serif" font-weight="bold" stroke="#fff" stroke-width="0.45" font-size="28.7" fill="#000">K</text>
<text transform="translate(902.33,840.55) scale(1.5195,1.0000)" font-family="Liberation Serif, DejaVu Serif, serif" font-size="16.7" fill="#000">−</text>
<text transform="translate(915.44,839.40) scale(1.0702,1.0000)" font-family="Liberation Serif, DejaVu Serif, serif" font-size="16.7" fill="#000">1</text>
<g stroke="#262626" stroke-width="1.1" stroke-opacity="0.75" fill="none">
<line x1="110.6" y1="1067.2" x2="110.6" y2="1260.4"/>
<line x1="110.6" y1="1212.1" x2="119.4" y2="1212.1"/>
<line x1="110.6" y1="1163.9" x2="119.4" y2="1163.9"/>
<line x1="110.6" y1="1115.6" x2="119.4" y2="1115.6"/>
<line x1="110.6" y1="1067.3" x2="119.4" y2="1067.3"/>
<line x1="110.6" y1="1260.4" x2="110.6" y2="1251.9"/>
<line x1="219.9" y1="1260.4" x2="219.9" y2="1251.9"/>
<line x1="329.1" y1="1260.4" x2="329.1" y2="1251.9"/>
<line x1="438.4" y1="1260.4" x2="438.4" y2="1251.9"/>
<line x1="547.7" y1="1260.4" x2="547.7" y2="1251.9"/>
<line x1="657.0" y1="1260.4" x2="657.0" y2="1251.9"/>
<line x1="766.2" y1="1260.4" x2="766.2" y2="1251.9"/>
<line x1="875.5" y1="1260.4" x2="875.5" y2="1251.9"/>
<line x1="984.8" y1="1260.4" x2="984.8" y2="1251.9"/>
</g>
<g fill="rgb(0,114,189)" fill-opacity="0.6" stroke="rgb(10,20,30)" stroke-opacity="0.55" stroke-width="1.25">
<rect x="110.60" y="1260.35" width="8.83" height="0.05"/>
<rect x="119.43" y="1260.35" width="8.83" height="0.05"/>
<rect x="128.26" y="1260.35" width="8.83" height="0.05"/>
<rect x="137.09" y="1260.35" width="8.83" height="0.05"/>
<rect x="145.92" y="1260.35" width="8.83" height="0.05"/>
<rect x="154.75" y="1260.35" width="8.83" height="0.05"/>
<rect x="163.58" y="1260.35" width="8.83" height="0.05"/>
<rect x="172.41" y="1260.35" width="8.83" height="0.05"/>
<rect x="181.24" y="1260.35" width="8.83" height="0.05"/>
<rect x="190.07" y="1260.35" width="8.83" height="0.05"/>
<rect x="198.90" y="1260.35" width="8.83" height="0.05"/>
<rect x="207.73" y="1260.35" width="8.83" height="0.05"/>
<rect x="216.56" y="1260.35" width="8.83" height="0.05"/>
<rect x="225.39" y="1260.35" width="8.83" height="0.05"/>
<rect x="234.22" y="1260.35" width="8.83" height="0.05"/>
<rect x="243.05" y="1260.35" width="8.83" height="0.05"/>
<rect x="251.88" y="1260.35" width="8.83" height="0.05"/>
<rect x="260.72" y="1260.35" width="8.83" height="0.05"/>
<rect x="269.55" y="1260.35" width="8.83" height="0.05"/>
<rect x="278.38" y="1260.35" width="8.83" height="0.05"/>
<rect x="287.21" y="1260.35" width="8.83" height="0.05"/>
<rect x="296.04" y="1260.35" width="8.83" height="0.05"/>
<rect x="304.87" y="1260.35" width="8.83" height="0.05"/>
<rect x="313.70" y="1260.35" width="8.83" height="0.05"/>
<rect x="322.53" y="1260.35" width="8.83" height="0.05"/>
<rect x="331.36" y="1260.07" width="8.83" height="0.33"/>
<rect x="340.19" y="1259.53" width="8.83" height="0.87"/>
<rect x="349.02" y="1258.89" width="8.83" height="1.51"/>
<rect x="357.85" y="1256.13" width="8.83" height="4.27"/>
<rect x="366.68" y="1251.70" width="8.83" height="8.70"/>
<rect x="375.51" y="1246.58" width="8.83" height="13.82"/>
<rect x="384.34" y="1234.44" width="8.83" height="25.96"/>
<rect x="393.17" y="1214.48" width="8.83" height="45.92"/>
<rect x="402.00" y="1199.44" width="8.83" height="60.96"/>
<rect x="410.83" y="1186.83" width="8.83" height="73.57"/>
<rect x="419.66" y="1175.53" width="8.83" height="84.87"/>
<rect x="428.49" y="1162.48" width="8.83" height="97.92"/>
<rect x="437.32" y="1150.62" width="8.83" height="109.78"/>
<rect x="446.15" y="1140.09" width="8.83" height="120.31"/>
<rect x="454.98" y="1127.85" width="8.83" height="132.55"/>
<rect x="463.81" y="1117.98" width="8.83" height="142.42"/>
<rect x="472.64" y="1109.60" width="8.83" height="150.80"/>
<rect x="481.47" y="1100.32" width="8.83" height="160.08"/>
<rect x="490.30" y="1091.51" width="8.83" height="168.89"/>
<rect x="499.13" y="1084.43" width="8.83" height="175.97"/>
<rect x="507.96" y="1080.72" width="8.83" height="179.68"/>
<rect x="516.79" y="1086.80" width="8.83" height="173.60"/>
<rect x="525.62" y="1112.38" width="8.83" height="148.02"/>
<rect x="534.45" y="1156.58" width="8.83" height="103.82"/>
<rect x="543.28" y="1182.80" width="8.83" height="77.60"/>
<rect x="552.12" y="1200.71" width="8.83" height="59.69"/>
<rect x="560.95" y="1227.88" width="8.83" height="32.52"/>
<rect x="569.78" y="1245.05" width="8.83" height="15.35"/>
<rect x="578.61" y="1252.36" width="8.83" height="8.04"/>
<rect x="587.44" y="1256.09" width="8.83" height="4.31"/>
<rect x="596.27" y="1257.76" width="8.83" height="2.64"/>
<rect x="605.10" y="1258.18" width="8.83" height="2.22"/>
<rect x="613.93" y="1258.49" width="8.83" height="1.91"/>
<rect x="622.76" y="1258.82" width="8.83" height="1.58"/>
<rect x="631.59" y="1259.14" width="8.83" height="1.26"/>
<rect x="640.42" y="1259.40" width="8.83" height="1.00"/>
<rect x="649.25" y="1259.58" width="8.83" height="0.82"/>
<rect x="658.08" y="1259.66" width="8.83" height="0.74"/>
<rect x="666.91" y="1259.71" width="8.83" height="0.69"/>
<rect x="675.74" y="1259.76" width="8.83" height="0.64"/>
<rect x="684.57" y="1259.80" width="8.83" height="0.60"/>
<rect x="693.40" y="1259.83" width="8.83" height="0.57"/>
<rect x="702.23" y="1259.86" width="8.83" height="0.54"/>
<rect x="711.06" y="1259.89" width="8.83" height="0.51"/>
<rect x="719.89" y="1259.91" width="8.83" height="0.49"/>
<rect x="728.72" y="1259.93" width="8.83" height="0.47"/>
<rect x="737.55" y="1259.95" width="8.83" height="0.45"/>
<rect x="746.38" y="1259.97" width="8.83" height="0.43"/>
<rect x="755.21" y="1259.99" width="8.83" height="0.41"/>
<rect x="764.04" y="1260.01" width="8.83" height="0.39"/>
<rect x="772.87" y="1260.03" width="8.83" height="0.37"/>
<rect x="781.70" y="1260.05" width="8.83" height="0.35"/>
<rect x="790.53" y="1260.07" width="8.83" height="0.33"/>
<rect x="799.36" y="1260.09" width="8.83" height="0.31"/>
<rect x="808.19" y="1260.10" width="8.83" height="0.30"/>
<rect x="817.02" y="1260.12" width="8.83" height="0.28"/>
<rect x="825.85" y="1260.14" width="8.83" height="0.26"/>
<rect x="834.68" y="1260.15" width="8.83" height="0.25"/>
<rect x="843.52" y="1260.17" width="8.83" height="0.23"/>
<rect x="852.35" y="1260.18" width="8.83" height="0.22"/>
<rect x="861.18" y="1260.19" width="8.83" height="0.21"/>
<rect x="870.01" y="1260.20" width="8.83" height="0.20"/>
<rect x="878.84" y="1260.21" width="8.83" height="0.19"/>
<rect x="887.67" y="1260.22" width="8.83" height="0.18"/>
<rect x="896.50" y="1260.24" width="8.83" height="0.16"/>
<rect x="905.33" y="1260.25" width="8.83" height="0.15"/>
<rect x="914.16" y="1260.26" width="8.83" height="0.14"/>
<rect x="922.99" y="1260.27" width="8.83" height="0.13"/>
<rect x="931.82" y="1260.28" width="8.83" height="0.12"/>
<rect x="940.65" y="1260.29" width="8.83" height="0.11"/>
<rect x="949.48" y="1260.29" width="8.83" height="0.11"/>
<rect x="958.31" y="1260.30" width="8.83" height="0.10"/>
<rect x="967.14" y="1260.30" width="8.83" height="0.10"/>
<rect x="975.97" y="1260.30" width="8.83" height="0.10"/>
</g>
<path d="M110.6,1260.4 L112.1,1260.4 L113.5,1260.4 L115.0,1260.4 L116.4,1260.4 L117.9,1260.4 L119.4,1260.4 L120.8,1260.4 L122.3,1260.4 L123.7,1260.4 L125.2,1260.4 L126.7,1260.4 L128.1,1260.4 L129.6,1260.4 L131.0,1260.4 L132.5,1260.4 L134.0,1260.4 L135.4,1260.4 L136.9,1260.4 L138.3,1260.4 L139.8,1260.4 L141.2,1260.4 L142.7,1260.4 L144.2,1260.4 L145.6,1260.4 L147.1,1260.4 L148.5,1260.4 L150.0,1260.4 L151.5,1260.4 L152.9,1260.4 L154.4,1260.4 L155.8,1260.4 L157.3,1260.4 L158.8,1260.4 L160.2,1260.4 L161.7,1260.4 L163.1,1260.4 L164.6,1260.4 L166.1,1260.4 L167.5,1260.4 L169.0,1260.4 L170.4,1260.4 L171.9,1260.4 L173.4,1260.4 L174.8,1260.4 L176.3,1260.4 L177.7,1260.4 L179.2,1260.4 L180.7,1260.4 L182.1,1260.4 L183.6,1260.4 L185.0,1260.4 L186.5,1260.4 L187.9,1260.4 L189.4,1260.4 L190.9,1260.4 L192.3,1260.4 L193.8,1260.4 L195.2,1260.4 L196.7,1260.4 L198.2,1260.4 L199.6,1260.4 L201.1,1260.4 L202.5,1260.4 L204.0,1260.4 L205.5,1260.4 L206.9,1260.4 L208.4,1260.4 L209.8,1260.4 L211.3,1260.4 L212.8,1260.4 L214.2,1260.4 L215.7,1260.4 L217.1,1260.4 L218.6,1260.4 L220.1,1260.4 L221.5,1260.4 L223.0,1260.4 L224.4,1260.4 L225.9,1260.4 L227.4,1260.4 L228.8,1260.4 L230.3,1260.4 L231.7,1260.4 L233.2,1260.4 L234.7,1260.4 L236.1,1260.4 L237.6,1260.4 L239.0,1260.4 L240.5,1260.4 L241.9,1260.4 L243.4,1260.4 L244.9,1260.4 L246.3,1260.4 L247.8,1260.4 L249.2,1260.4 L250.7,1260.4 L252.2,1260.4 L253.6,1260.4 L255.1,1260.4 L256.5,1260.4 L258.0,1260.4 L259.5,1260.4 L260.9,1260.4 L262.4,1260.4 L263.8,1260.4 L265.3,1260.4 L266.8,1260.4 L268.2,1260.4 L269.7,1260.4 L271.1,1260.4 L272.6,1260.4 L274.1,1260.4 L275.5,1260.4 L277.0,1260.4 L278.4,1260.4 L279.9,1260.4 L281.4,1260.4 L282.8,1260.4 L284.3,1260.4 L285.7,1260.4 L287.2,1260.4 L288.7,1260.4 L290.1,1260.4 L291.6,1260.4 L293.0,1260.4 L294.5,1260.4 L295.9,1260.4 L297.4,1260.4 L298.9,1260.4 L300.3,1260.4 L301.8,1260.4 L303.2,1260.4 L304.7,1260.4 L306.2,1260.4 L307.6,1260.4 L309.1,1260.4 L310.5,1260.4 L312.0,1260.4 L313.5,1260.4 L314.9,1260.4 L316.4,1260.4 L317.8,1260.4 L319.3,1260.4 L320.8,1260.4 L322.2,1260.4 L323.7,1260.4 L325.1,1260.4 L326.6,1260.4 L328.1,1260.4 L329.5,1260.4 L331.0,1260.4 L332.4,1260.3 L333.9,1260.2 L335.4,1260.1 L336.8,1260.0 L338.3,1259.9 L339.7,1259.8 L341.2,1259.7 L342.6,1259.6 L344.1,1259.5 L345.6,1259.5 L347.0,1259.4 L348.5,1259.4 L349.9,1259.3 L351.4,1259.2 L352.9,1259.1 L354.3,1258.9 L355.8,1258.6 L357.2,1258.2 L358.7,1257.7 L360.2,1257.2 L361.6,1256.6 L363.1,1255.9 L364.5,1255.1 L366.0,1254.3 L367.5,1253.5 L368.9,1252.8 L370.4,1252.1 L371.8,1251.3 L373.3,1250.6 L374.8,1249.8 L376.2,1249.1 L377.7,1248.3 L379.1,1247.4 L380.6,1246.4 L382.1,1245.2 L383.5,1243.8 L385.0,1242.1 L386.4,1240.0 L387.9,1237.3 L389.4,1233.9 L390.8,1230.1 L392.3,1226.1 L393.7,1222.2 L395.2,1218.7 L396.6,1215.8 L398.1,1213.1 L399.6,1210.6 L401.0,1208.2 L402.5,1205.8 L403.9,1203.3 L405.4,1200.9 L406.9,1198.6 L408.3,1196.3 L409.8,1194.2 L411.2,1192.1 L412.7,1190.1 L414.2,1188.1 L415.6,1186.2 L417.1,1184.4 L418.5,1182.6 L420.0,1180.9 L421.5,1179.1 L422.9,1177.2 L424.4,1175.3 L425.8,1173.2 L427.3,1171.2 L428.8,1169.0 L430.2,1166.8 L431.7,1164.4 L433.1,1162.0 L434.6,1159.7 L436.1,1157.5 L437.5,1155.6 L439.0,1153.7 L440.4,1152.0 L441.9,1150.3 L443.4,1148.7 L444.8,1147.2 L446.3,1145.7 L447.7,1144.1 L449.2,1142.4 L450.6,1140.4 L452.1,1138.1 L453.6,1135.7 L455.0,1133.3 L456.5,1131.2 L457.9,1129.3 L459.4,1127.7 L460.9,1126.1 L462.3,1124.5 L463.8,1122.8 L465.2,1121.2 L466.7,1119.6 L468.2,1117.9 L469.6,1116.4 L471.1,1114.9 L472.5,1113.5 L474.0,1112.3 L475.5,1111.0 L476.9,1109.8 L478.4,1108.6 L479.8,1107.2 L481.3,1105.7 L482.8,1104.0 L484.2,1102.3 L485.7,1100.5 L487.1,1098.8 L488.6,1097.1 L490.1,1095.6 L491.5,1094.2 L493.0,1092.9 L494.4,1091.7 L495.9,1090.5 L497.3,1089.3 L498.8,1088.1 L500.3,1086.9 L501.7,1085.7 L503.2,1084.5 L504.6,1083.5 L506.1,1082.5 L507.6,1081.6 L509.0,1080.9 L510.5,1080.4 L511.9,1080.3 L513.4,1080.4 L514.9,1080.6 L516.3,1081.0 L517.8,1081.9 L519.2,1083.2 L520.7,1084.9 L522.2,1087.2 L523.6,1090.2 L525.1,1093.9 L526.5,1098.2 L528.0,1102.9 L529.5,1108.4 L530.9,1114.9 L532.4,1122.0 L533.8,1129.7 L535.3,1138.2 L536.8,1146.9 L538.2,1155.0 L539.7,1162.2 L541.1,1168.4 L542.6,1173.2 L544.1,1176.7 L545.5,1179.5 L547.0,1182.0 L548.4,1184.2 L549.9,1186.3 L551.3,1188.5 L552.8,1191.1 L554.3,1194.2 L555.7,1197.8 L557.2,1201.7 L558.6,1206.1 L560.1,1211.0 L561.6,1216.3 L563.0,1221.5 L564.5,1226.1 L565.9,1230.4 L567.4,1234.2 L568.9,1237.5 L570.3,1240.2 L571.8,1242.4 L573.2,1244.3 L574.7,1246.1 L576.2,1247.6 L577.6,1248.9 L579.1,1250.0 L580.5,1251.0 L582.0,1251.9 L583.5,1252.8 L584.9,1253.5 L586.4,1254.2 L587.8,1254.8 L589.3,1255.3 L590.8,1255.8 L592.2,1256.3 L593.7,1256.7 L595.1,1257.1 L596.6,1257.4 L598.1,1257.6 L599.5,1257.7 L601.0,1257.8 L602.4,1257.9 L603.9,1258.0 L605.3,1258.0 L606.8,1258.1 L608.3,1258.1 L609.7,1258.2 L611.2,1258.2 L612.6,1258.3 L614.1,1258.3 L615.6,1258.4 L617.0,1258.4 L618.5,1258.5 L619.9,1258.5 L621.4,1258.6 L622.9,1258.7 L624.3,1258.7 L625.8,1258.8 L627.2,1258.8 L628.7,1258.9 L630.2,1258.9 L631.6,1259.0 L633.1,1259.0 L634.5,1259.1 L636.0,1259.1 L637.5,1259.2 L638.9,1259.2 L640.4,1259.3 L641.8,1259.3 L643.3,1259.4 L644.8,1259.4 L646.2,1259.4 L647.7,1259.5 L649.1,1259.5 L650.6,1259.5 L652.0,1259.6 L653.5,1259.6 L655.0,1259.6 L656.4,1259.6 L657.9,1259.6 L659.3,1259.6 L660.8,1259.6 L662.3,1259.7 L663.7,1259.7 L665.2,1259.7 L666.6,1259.7 L668.1,1259.7 L669.6,1259.7 L671.0,1259.7 L672.5,1259.7 L673.9,1259.7 L675.4,1259.7 L676.9,1259.7 L678.3,1259.7 L679.8,1259.8 L681.2,1259.8 L682.7,1259.8 L684.2,1259.8 L685.6,1259.8 L687.1,1259.8 L688.5,1259.8 L690.0,1259.8 L691.5,1259.8 L692.9,1259.8 L694.4,1259.8 L695.8,1259.8 L697.3,1259.8 L698.8,1259.8 L700.2,1259.8 L701.7,1259.8 L703.1,1259.9 L704.6,1259.9 L706.0,1259.9 L707.5,1259.9 L709.0,1259.9 L710.4,1259.9 L711.9,1259.9 L713.3,1259.9 L714.8,1259.9 L716.3,1259.9 L717.7,1259.9 L719.2,1259.9 L720.6,1259.9 L722.1,1259.9 L723.6,1259.9 L725.0,1259.9 L726.5,1259.9 L727.9,1259.9 L729.4,1259.9 L730.9,1259.9 L732.3,1259.9 L733.8,1259.9 L735.2,1259.9 L736.7,1259.9 L738.2,1259.9 L739.6,1259.9 L741.1,1260.0 L742.5,1260.0 L744.0,1260.0 L745.5,1260.0 L746.9,1260.0 L748.4,1260.0 L749.8,1260.0 L751.3,1260.0 L752.8,1260.0 L754.2,1260.0 L755.7,1260.0 L757.1,1260.0 L758.6,1260.0 L760.0,1260.0 L761.5,1260.0 L763.0,1260.0 L764.4,1260.0 L765.9,1260.0 L767.3,1260.0 L768.8,1260.0 L770.3,1260.0 L771.7,1260.0 L773.2,1260.0 L774.6,1260.0 L776.1,1260.0 L777.6,1260.0 L779.0,1260.0 L780.5,1260.0 L781.9,1260.0 L783.4,1260.0 L784.9,1260.0 L786.3,1260.0 L787.8,1260.1 L789.2,1260.1 L790.7,1260.1 L792.2,1260.1 L793.6,1260.1 L795.1,1260.1 L796.5,1260.1 L798.0,1260.1 L799.5,1260.1 L800.9,1260.1 L802.4,1260.1 L803.8,1260.1 L805.3,1260.1 L806.7,1260.1 L808.2,1260.1 L809.7,1260.1 L811.1,1260.1 L812.6,1260.1 L814.0,1260.1 L815.5,1260.1 L817.0,1260.1 L818.4,1260.1 L819.9,1260.1 L821.3,1260.1 L822.8,1260.1 L824.3,1260.1 L825.7,1260.1 L827.2,1260.1 L828.6,1260.1 L830.1,1260.1 L831.6,1260.1 L833.0,1260.1 L834.5,1260.1 L835.9,1260.1 L837.4,1260.1 L838.9,1260.2 L840.3,1260.2 L841.8,1260.2 L843.2,1260.2 L844.7,1260.2 L846.2,1260.2 L847.6,1260.2 L849.1,1260.2 L850.5,1260.2 L852.0,1260.2 L853.5,1260.2 L854.9,1260.2 L856.4,1260.2 L857.8,1260.2 L859.3,1260.2 L860.7,1260.2 L862.2,1260.2 L863.7,1260.2 L865.1,1260.2 L866.6,1260.2 L868.0,1260.2 L869.5,1260.2 L871.0,1260.2 L872.4,1260.2 L873.9,1260.2 L875.3,1260.2 L876.8,1260.2 L878.3,1260.2 L879.7,1260.2 L881.2,1260.2 L882.6,1260.2 L884.1,1260.2 L885.6,1260.2 L887.0,1260.2 L888.5,1260.2 L889.9,1260.2 L891.4,1260.2 L892.9,1260.2 L894.3,1260.2 L895.8,1260.2 L897.2,1260.2 L898.7,1260.2 L900.2,1260.2 L901.6,1260.2 L903.1,1260.2 L904.5,1260.2 L906.0,1260.2 L907.5,1260.2 L908.9,1260.2 L910.4,1260.2 L911.8,1260.2 L913.3,1260.3 L914.7,1260.3 L916.2,1260.3 L917.7,1260.3 L919.1,1260.3 L920.6,1260.3 L922.0,1260.3 L923.5,1260.3 L925.0,1260.3 L926.4,1260.3 L927.9,1260.3 L929.3,1260.3 L930.8,1260.3 L932.3,1260.3 L933.7,1260.3 L935.2,1260.3 L936.6,1260.3 L938.1,1260.3 L939.6,1260.3 L941.0,1260.3 L942.5,1260.3 L943.9,1260.3 L945.4,1260.3 L946.9,1260.3 L948.3,1260.3 L949.8,1260.3 L951.2,1260.3 L952.7,1260.3 L954.2,1260.3 L955.6,1260.3 L957.1,1260.3 L958.5,1260.3 L960.0,1260.3 L961.4,1260.3 L962.9,1260.3 L964.4,1260.3 L965.8,1260.3 L967.3,1260.3 L968.7,1260.3 L970.2,1260.3 L971.7,1260.3 L973.1,1260.3 L974.6,1260.3 L976.0,1260.3 L977.5,1260.3 L979.0,1260.3 L980.4,1260.3 L981.9,1260.3 L983.3,1260.3 L984.8,1260.3" fill="none" stroke="rgb(217,83,25)" stroke-width="4.0" stroke-linejoin="round"/>
<g font-family="DejaVu Sans, Liberation Sans, sans-serif" font-size="31.0" fill="#262626">
<text transform="translate(101.4,1223.78) scale(0.955,1)" text-anchor="end">50</text>
<text transform="translate(101.4,1175.50) scale(0.955,1)" text-anchor="end">100</text>
<text transform="translate(101.4,1127.23) scale(0.955,1)" text-anchor="end">150</text>
<text transform="translate(101.4,1078.95) scale(0.955,1)" text-anchor="end">200</text>
<text transform="translate(110.60,1298.50) scale(0.955,1)" text-anchor="middle">-0.02</text>
<text transform="translate(219.88,1298.50) scale(0.955,1)" text-anchor="middle">-0.015</text>
<text transform="translate(329.15,1298.50) scale(0.955,1)" text-anchor="middle">-0.01</text>
<text transform="translate(438.42,1298.50) scale(0.955,1)" text-anchor="middle">-0.005</text>
<text transform="translate(547.70,1298.50) scale(0.955,1)" text-anchor="middle">0</text>
<text transform="translate(656.98,1298.50) scale(0.955,1)" text-anchor="middle">0.005</text>
<text transform="translate(766.25,1298.50) scale(0.955,1)" text-anchor="middle">0.01</text>
<text transform="translate(875.53,1298.50) scale(0.955,1)" text-anchor="middle">0.015</text>
<text transform="translate(984.80,1298.50) scale(0.955,1)" text-anchor="middle">0.02</text>
</g>
<text transform="translate(27.31,1186.23) rotate(-90) scale(1.1097,1.0106)" font-family="Liberation Serif, DejaVu Serif, serif" font-size="31.6" fill="#262626">pdf</text>
<text transform="translate(657.09,1129.60) scale(1.0140,1.0000)" font-family="Liberation Serif, DejaVu Serif, serif" font-weight="bold" stroke="#fff" stroke-width="0.45" font-size="28.7" fill="#000">K</text>
<text transform="translate(690.22,1129.60) scale(1.5211,1.0000)" font-family="Liberation Serif, DejaVu Serif, serif" font-weight="bold" stroke="#fff" stroke-width="0.45" font-size="28.7" fill="#000">=</text>
<text transform="translate(723.31,1129.60) scale(1.1263,0.9400)" font-family="Liberation Serif, DejaVu Serif, serif" font-weight="bold" stroke="#fff" stroke-width="0.45" font-size="28.7" fill="#000">5.0</text>
<text transform="translate(775.85,1129.60) scale(1.0345,1.0000)" font-family="Liberation Serif, DejaVu Serif, serif" font-weight="bold" stroke="#fff" stroke-width="0.45" font-size="28.7" fill="#000">W</text>
<text transform="translate(816.58,1129.60) scale(1.0398,1.0000)" font-family="Liberation Serif, DejaVu Serif, serif" font-weight="bold" stroke="#fff" stroke-width="0.45" font-size="28.7" fill="#000">m</text>
<text transform="translate(842.73,1121.35) scale(1.5195,1.0000)" font-family="Liberation Serif, DejaVu Serif, serif" font-size="16.7" fill="#000">−</text>
<text transform="translate(855.54,1120.20) scale(1.2061,1.0000)" font-family="Liberation Serif, DejaVu Serif, serif" font-size="16.7" fill="#000">1</text>
<text transform="translate(877.99,1129.60) scale(1.0187,1.0000)" font-family="Liberation Serif, DejaVu Serif, serif" font-weight="bold" stroke="#fff" stroke-width="0.45" font-size="28.7" fill="#000">K</text>
<text transform="translate(902.33,1121.35) scale(1.5195,1.0000)" font-family="Liberation Serif, DejaVu Serif, serif" font-size="16.7" fill="#000">−</text>
<text transform="translate(915.44,1120.20) scale(1.0702,1.0000)" font-family="Liberation Serif, DejaVu Serif, serif" font-size="16.7" fill="#000">1</text>
<text transform="translate(430.13,1333.70) scale(1.1874,1.0000)" font-family="Liberation Serif, DejaVu Serif, serif" font-size="33" fill="#262626">da/dt</text>
<text transform="translate(520.93,1333.70) scale(1.0576,1.0000)" font-family="Liberation Serif, DejaVu Serif, serif" font-size="33" fill="#262626">(</text>
<text transform="translate(532.57,1333.70) scale(1.0661,1.0000)" font-family="Liberation Serif, DejaVu Serif, serif" font-size="33" fill="#262626">au</text>
<text transform="translate(576.01,1333.70) scale(0.9974,1.0000)" font-family="Liberation Serif, DejaVu Serif, serif" font-size="33" fill="#262626">My</text>
<text transform="translate(622.06,1322.55) scale(1.4409,1.0000)" font-family="Liberation Serif, DejaVu Serif, serif" font-size="20" fill="#262626">−</text>
<text transform="translate(639.14,1321.00) scale(0.8936,0.9600)" font-family="Liberation Serif, DejaVu Serif, serif" font-size="20" fill="#262626">1</text>
<text transform="translate(652.43,1333.70) scale(0.9061,1.0000)" font-family="Liberation Serif, DejaVu Serif, serif" font-size="33" fill="#262626">)</text>
</svg>
</body></html>
